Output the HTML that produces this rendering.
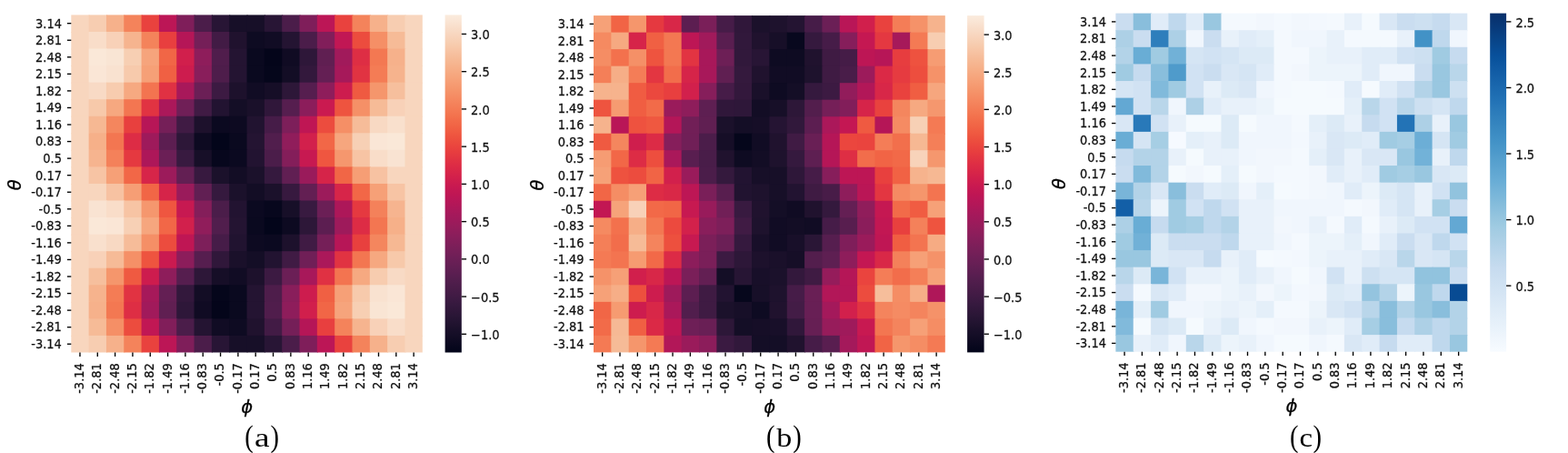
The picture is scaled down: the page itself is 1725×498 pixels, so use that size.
<!DOCTYPE html>
<html><head><meta charset="utf-8"><title>Heatmaps</title>
<style>
html,body{margin:0;padding:0;background:#fff;}
body{width:1725px;height:498px;overflow:hidden;}
svg{display:block;}
.t{font-family:"DejaVu Sans","Liberation Sans",sans-serif;font-size:13.0px;fill:#111;stroke:#111;stroke-width:0.25px;}
.ax{font-family:"DejaVu Sans","Liberation Sans",sans-serif;font-style:italic;font-size:19.5px;fill:#000;stroke:#000;stroke-width:0.3px;}
.cap{font-family:"Liberation Serif","DejaVu Serif",serif;font-size:32.5px;fill:#000;}
.tk{stroke:#000;stroke-width:1.35;fill:none;}
</style></head><body>
<svg width="1725" height="498" viewBox="0 0 1725 498">
<rect width="1725" height="498" fill="#fff"/>
<g>
<rect x="78.30" y="16.40" width="20.32" height="19.55" fill="#f8d6be"/><rect x="97.62" y="16.40" width="20.32" height="19.55" fill="#f7cdb1"/><rect x="116.95" y="16.40" width="20.32" height="19.55" fill="#f6b18b"/><rect x="136.27" y="16.40" width="20.32" height="19.55" fill="#f4835b"/><rect x="155.60" y="16.40" width="20.32" height="19.55" fill="#e9423e"/><rect x="174.93" y="16.40" width="20.32" height="19.55" fill="#bc1656"/><rect x="194.25" y="16.40" width="20.32" height="19.55" fill="#7f1e5a"/><rect x="213.57" y="16.40" width="20.32" height="19.55" fill="#4b1d4a"/><rect x="232.90" y="16.40" width="20.32" height="19.55" fill="#281535"/><rect x="252.22" y="16.40" width="20.32" height="19.55" fill="#170f28"/><rect x="271.55" y="16.40" width="20.32" height="19.55" fill="#170f28"/><rect x="290.88" y="16.40" width="20.32" height="19.55" fill="#281535"/><rect x="310.20" y="16.40" width="20.32" height="19.55" fill="#4b1d4a"/><rect x="329.52" y="16.40" width="20.32" height="19.55" fill="#7f1e5a"/><rect x="348.85" y="16.40" width="20.32" height="19.55" fill="#bc1656"/><rect x="368.18" y="16.40" width="20.32" height="19.55" fill="#e9423e"/><rect x="387.50" y="16.40" width="20.32" height="19.55" fill="#f4835b"/><rect x="406.82" y="16.40" width="20.32" height="19.55" fill="#f6b18b"/><rect x="426.15" y="16.40" width="20.32" height="19.55" fill="#f7cdb1"/><rect x="445.48" y="16.40" width="19.32" height="19.55" fill="#f8d6be"/>
<rect x="78.30" y="34.95" width="20.32" height="19.55" fill="#f8d6be"/><rect x="97.62" y="34.95" width="20.32" height="19.55" fill="#f9ddc9"/><rect x="116.95" y="34.95" width="20.32" height="19.55" fill="#f8d1b8"/><rect x="136.27" y="34.95" width="20.32" height="19.55" fill="#f6b48f"/><rect x="155.60" y="34.95" width="20.32" height="19.55" fill="#f4835b"/><rect x="174.93" y="34.95" width="20.32" height="19.55" fill="#e83f3f"/><rect x="194.25" y="34.95" width="20.32" height="19.55" fill="#b51657"/><rect x="213.57" y="34.95" width="20.32" height="19.55" fill="#751f58"/><rect x="232.90" y="34.95" width="20.32" height="19.55" fill="#421b45"/><rect x="252.22" y="34.95" width="20.32" height="19.55" fill="#20122e"/><rect x="271.55" y="34.95" width="20.32" height="19.55" fill="#0e0b22"/><rect x="290.88" y="34.95" width="20.32" height="19.55" fill="#110c24"/><rect x="310.20" y="34.95" width="20.32" height="19.55" fill="#241432"/><rect x="329.52" y="34.95" width="20.32" height="19.55" fill="#4b1d4a"/><rect x="348.85" y="34.95" width="20.32" height="19.55" fill="#811e5a"/><rect x="368.18" y="34.95" width="20.32" height="19.55" fill="#c11754"/><rect x="387.50" y="34.95" width="20.32" height="19.55" fill="#ec4c3e"/><rect x="406.82" y="34.95" width="20.32" height="19.55" fill="#f58f66"/><rect x="426.15" y="34.95" width="20.32" height="19.55" fill="#f6bb97"/><rect x="445.48" y="34.95" width="19.32" height="19.55" fill="#f8d6be"/>
<rect x="78.30" y="53.51" width="20.32" height="19.55" fill="#f8d6be"/><rect x="97.62" y="53.51" width="20.32" height="19.55" fill="#fae8d8"/><rect x="116.95" y="53.51" width="20.32" height="19.55" fill="#f9e5d4"/><rect x="136.27" y="53.51" width="20.32" height="19.55" fill="#f7cfb3"/><rect x="155.60" y="53.51" width="20.32" height="19.55" fill="#f6a47c"/><rect x="174.93" y="53.51" width="20.32" height="19.55" fill="#f16646"/><rect x="194.25" y="53.51" width="20.32" height="19.55" fill="#d11f4c"/><rect x="213.57" y="53.51" width="20.32" height="19.55" fill="#8e1d5b"/><rect x="232.90" y="53.51" width="20.32" height="19.55" fill="#501d4c"/><rect x="252.22" y="53.51" width="20.32" height="19.55" fill="#241432"/><rect x="271.55" y="53.51" width="20.32" height="19.55" fill="#0a091f"/><rect x="290.88" y="53.51" width="20.32" height="19.55" fill="#04051a"/><rect x="310.20" y="53.51" width="20.32" height="19.55" fill="#100b23"/><rect x="329.52" y="53.51" width="20.32" height="19.55" fill="#2e1739"/><rect x="348.85" y="53.51" width="20.32" height="19.55" fill="#601f52"/><rect x="368.18" y="53.51" width="20.32" height="19.55" fill="#a11a5b"/><rect x="387.50" y="53.51" width="20.32" height="19.55" fill="#de2e44"/><rect x="406.82" y="53.51" width="20.32" height="19.55" fill="#f37852"/><rect x="426.15" y="53.51" width="20.32" height="19.55" fill="#f6b18b"/><rect x="445.48" y="53.51" width="19.32" height="19.55" fill="#f8d6be"/>
<rect x="78.30" y="72.06" width="20.32" height="19.55" fill="#f8d6be"/><rect x="97.62" y="72.06" width="20.32" height="19.55" fill="#fae6d6"/><rect x="116.95" y="72.06" width="20.32" height="19.55" fill="#f9e2d0"/><rect x="136.27" y="72.06" width="20.32" height="19.55" fill="#f7caac"/><rect x="155.60" y="72.06" width="20.32" height="19.55" fill="#f6a077"/><rect x="174.93" y="72.06" width="20.32" height="19.55" fill="#f06043"/><rect x="194.25" y="72.06" width="20.32" height="19.55" fill="#cd1c4e"/><rect x="213.57" y="72.06" width="20.32" height="19.55" fill="#891e5b"/><rect x="232.90" y="72.06" width="20.32" height="19.55" fill="#4e1d4b"/><rect x="252.22" y="72.06" width="20.32" height="19.55" fill="#241432"/><rect x="271.55" y="72.06" width="20.32" height="19.55" fill="#0a091f"/><rect x="290.88" y="72.06" width="20.32" height="19.55" fill="#05061b"/><rect x="310.20" y="72.06" width="20.32" height="19.55" fill="#130d25"/><rect x="329.52" y="72.06" width="20.32" height="19.55" fill="#33183c"/><rect x="348.85" y="72.06" width="20.32" height="19.55" fill="#641f54"/><rect x="368.18" y="72.06" width="20.32" height="19.55" fill="#a6195a"/><rect x="387.50" y="72.06" width="20.32" height="19.55" fill="#e13342"/><rect x="406.82" y="72.06" width="20.32" height="19.55" fill="#f47c55"/><rect x="426.15" y="72.06" width="20.32" height="19.55" fill="#f6b38d"/><rect x="445.48" y="72.06" width="19.32" height="19.55" fill="#f8d6be"/>
<rect x="78.30" y="90.62" width="20.32" height="19.55" fill="#f8d6be"/><rect x="97.62" y="90.62" width="20.32" height="19.55" fill="#f8dac5"/><rect x="116.95" y="90.62" width="20.32" height="19.55" fill="#f7ccaf"/><rect x="136.27" y="90.62" width="20.32" height="19.55" fill="#f6a981"/><rect x="155.60" y="90.62" width="20.32" height="19.55" fill="#f37450"/><rect x="174.93" y="90.62" width="20.32" height="19.55" fill="#e03143"/><rect x="194.25" y="90.62" width="20.32" height="19.55" fill="#a8185a"/><rect x="213.57" y="90.62" width="20.32" height="19.55" fill="#6b1f56"/><rect x="232.90" y="90.62" width="20.32" height="19.55" fill="#3c1a42"/><rect x="252.22" y="90.62" width="20.32" height="19.55" fill="#1d112c"/><rect x="271.55" y="90.62" width="20.32" height="19.55" fill="#110c24"/><rect x="290.88" y="90.62" width="20.32" height="19.55" fill="#160e27"/><rect x="310.20" y="90.62" width="20.32" height="19.55" fill="#2d1738"/><rect x="329.52" y="90.62" width="20.32" height="19.55" fill="#561e4f"/><rect x="348.85" y="90.62" width="20.32" height="19.55" fill="#8e1d5b"/><rect x="368.18" y="90.62" width="20.32" height="19.55" fill="#cd1c4e"/><rect x="387.50" y="90.62" width="20.32" height="19.55" fill="#ef5a41"/><rect x="406.82" y="90.62" width="20.32" height="19.55" fill="#f5966c"/><rect x="426.15" y="90.62" width="20.32" height="19.55" fill="#f6bf9d"/><rect x="445.48" y="90.62" width="19.32" height="19.55" fill="#f8d6be"/>
<rect x="78.30" y="109.18" width="20.32" height="19.55" fill="#f8d6be"/><rect x="97.62" y="109.18" width="20.32" height="19.55" fill="#f7c9aa"/><rect x="116.95" y="109.18" width="20.32" height="19.55" fill="#f6a880"/><rect x="136.27" y="109.18" width="20.32" height="19.55" fill="#f37651"/><rect x="155.60" y="109.18" width="20.32" height="19.55" fill="#e13342"/><rect x="174.93" y="109.18" width="20.32" height="19.55" fill="#ab185a"/><rect x="194.25" y="109.18" width="20.32" height="19.55" fill="#701f57"/><rect x="213.57" y="109.18" width="20.32" height="19.55" fill="#401b44"/><rect x="232.90" y="109.18" width="20.32" height="19.55" fill="#221331"/><rect x="252.22" y="109.18" width="20.32" height="19.55" fill="#140e26"/><rect x="271.55" y="109.18" width="20.32" height="19.55" fill="#1a102a"/><rect x="290.88" y="109.18" width="20.32" height="19.55" fill="#30173a"/><rect x="310.20" y="109.18" width="20.32" height="19.55" fill="#561e4f"/><rect x="329.52" y="109.18" width="20.32" height="19.55" fill="#8c1d5b"/><rect x="348.85" y="109.18" width="20.32" height="19.55" fill="#ca1a50"/><rect x="368.18" y="109.18" width="20.32" height="19.55" fill="#ee543f"/><rect x="387.50" y="109.18" width="20.32" height="19.55" fill="#f59067"/><rect x="406.82" y="109.18" width="20.32" height="19.55" fill="#f6bb97"/><rect x="426.15" y="109.18" width="20.32" height="19.55" fill="#f8d1b8"/><rect x="445.48" y="109.18" width="19.32" height="19.55" fill="#f8d6be"/>
<rect x="78.30" y="127.73" width="20.32" height="19.55" fill="#f8d6be"/><rect x="97.62" y="127.73" width="20.32" height="19.55" fill="#f6b893"/><rect x="116.95" y="127.73" width="20.32" height="19.55" fill="#f4865e"/><rect x="136.27" y="127.73" width="20.32" height="19.55" fill="#e8403e"/><rect x="155.60" y="127.73" width="20.32" height="19.55" fill="#b71657"/><rect x="174.93" y="127.73" width="20.32" height="19.55" fill="#751f58"/><rect x="194.25" y="127.73" width="20.32" height="19.55" fill="#401b44"/><rect x="213.57" y="127.73" width="20.32" height="19.55" fill="#1d112c"/><rect x="232.90" y="127.73" width="20.32" height="19.55" fill="#0b0920"/><rect x="252.22" y="127.73" width="20.32" height="19.55" fill="#0d0a21"/><rect x="271.55" y="127.73" width="20.32" height="19.55" fill="#211330"/><rect x="290.88" y="127.73" width="20.32" height="19.55" fill="#461c48"/><rect x="310.20" y="127.73" width="20.32" height="19.55" fill="#7d1f5a"/><rect x="329.52" y="127.73" width="20.32" height="19.55" fill="#bf1654"/><rect x="348.85" y="127.73" width="20.32" height="19.55" fill="#ec4c3e"/><rect x="368.18" y="127.73" width="20.32" height="19.55" fill="#f58f66"/><rect x="387.50" y="127.73" width="20.32" height="19.55" fill="#f6bc99"/><rect x="406.82" y="127.73" width="20.32" height="19.55" fill="#f8d9c3"/><rect x="426.15" y="127.73" width="20.32" height="19.55" fill="#f9e0cd"/><rect x="445.48" y="127.73" width="19.32" height="19.55" fill="#f8d6be"/>
<rect x="78.30" y="146.28" width="20.32" height="19.55" fill="#f8d6be"/><rect x="97.62" y="146.28" width="20.32" height="19.55" fill="#f6b089"/><rect x="116.95" y="146.28" width="20.32" height="19.55" fill="#f37651"/><rect x="136.27" y="146.28" width="20.32" height="19.55" fill="#dd2c45"/><rect x="155.60" y="146.28" width="20.32" height="19.55" fill="#9e1a5b"/><rect x="174.93" y="146.28" width="20.32" height="19.55" fill="#5c1e51"/><rect x="194.25" y="146.28" width="20.32" height="19.55" fill="#2d1738"/><rect x="213.57" y="146.28" width="20.32" height="19.55" fill="#0d0a21"/><rect x="232.90" y="146.28" width="20.32" height="19.55" fill="#03051a"/><rect x="252.22" y="146.28" width="20.32" height="19.55" fill="#0a091f"/><rect x="271.55" y="146.28" width="20.32" height="19.55" fill="#241432"/><rect x="290.88" y="146.28" width="20.32" height="19.55" fill="#511e4d"/><rect x="310.20" y="146.28" width="20.32" height="19.55" fill="#901d5b"/><rect x="329.52" y="146.28" width="20.32" height="19.55" fill="#d2204c"/><rect x="348.85" y="146.28" width="20.32" height="19.55" fill="#f26747"/><rect x="368.18" y="146.28" width="20.32" height="19.55" fill="#f6a67e"/><rect x="387.50" y="146.28" width="20.32" height="19.55" fill="#f7d0b5"/><rect x="406.82" y="146.28" width="20.32" height="19.55" fill="#fae6d6"/><rect x="426.15" y="146.28" width="20.32" height="19.55" fill="#fae8d8"/><rect x="445.48" y="146.28" width="19.32" height="19.55" fill="#f8d6be"/>
<rect x="78.30" y="164.84" width="20.32" height="19.55" fill="#f8d6be"/><rect x="97.62" y="164.84" width="20.32" height="19.55" fill="#f6b48f"/><rect x="116.95" y="164.84" width="20.32" height="19.55" fill="#f4815a"/><rect x="136.27" y="164.84" width="20.32" height="19.55" fill="#e53940"/><rect x="155.60" y="164.84" width="20.32" height="19.55" fill="#ad1759"/><rect x="174.93" y="164.84" width="20.32" height="19.55" fill="#6b1f56"/><rect x="194.25" y="164.84" width="20.32" height="19.55" fill="#381a40"/><rect x="213.57" y="164.84" width="20.32" height="19.55" fill="#170f28"/><rect x="232.90" y="164.84" width="20.32" height="19.55" fill="#07071d"/><rect x="252.22" y="164.84" width="20.32" height="19.55" fill="#0b0920"/><rect x="271.55" y="164.84" width="20.32" height="19.55" fill="#221331"/><rect x="290.88" y="164.84" width="20.32" height="19.55" fill="#4b1d4a"/><rect x="310.20" y="164.84" width="20.32" height="19.55" fill="#841e5a"/><rect x="329.52" y="164.84" width="20.32" height="19.55" fill="#c71951"/><rect x="348.85" y="164.84" width="20.32" height="19.55" fill="#ef5640"/><rect x="368.18" y="164.84" width="20.32" height="19.55" fill="#f5976e"/><rect x="387.50" y="164.84" width="20.32" height="19.55" fill="#f7c4a4"/><rect x="406.82" y="164.84" width="20.32" height="19.55" fill="#f9ddc9"/><rect x="426.15" y="164.84" width="20.32" height="19.55" fill="#f9e3d2"/><rect x="445.48" y="164.84" width="19.32" height="19.55" fill="#f8d6be"/>
<rect x="78.30" y="183.40" width="20.32" height="19.55" fill="#f8d6be"/><rect x="97.62" y="183.40" width="20.32" height="19.55" fill="#f7c4a4"/><rect x="116.95" y="183.40" width="20.32" height="19.55" fill="#f6a077"/><rect x="136.27" y="183.40" width="20.32" height="19.55" fill="#f26747"/><rect x="155.60" y="183.40" width="20.32" height="19.55" fill="#d72549"/><rect x="174.93" y="183.40" width="20.32" height="19.55" fill="#9c1b5b"/><rect x="194.25" y="183.40" width="20.32" height="19.55" fill="#631f53"/><rect x="213.57" y="183.40" width="20.32" height="19.55" fill="#37193f"/><rect x="232.90" y="183.40" width="20.32" height="19.55" fill="#1b112b"/><rect x="252.22" y="183.40" width="20.32" height="19.55" fill="#130d25"/><rect x="271.55" y="183.40" width="20.32" height="19.55" fill="#1b112b"/><rect x="290.88" y="183.40" width="20.32" height="19.55" fill="#35193e"/><rect x="310.20" y="183.40" width="20.32" height="19.55" fill="#611f53"/><rect x="329.52" y="183.40" width="20.32" height="19.55" fill="#9a1b5b"/><rect x="348.85" y="183.40" width="20.32" height="19.55" fill="#d62449"/><rect x="368.18" y="183.40" width="20.32" height="19.55" fill="#f16646"/><rect x="387.50" y="183.40" width="20.32" height="19.55" fill="#f69e75"/><rect x="406.82" y="183.40" width="20.32" height="19.55" fill="#f7c2a2"/><rect x="426.15" y="183.40" width="20.32" height="19.55" fill="#f8d6be"/><rect x="445.48" y="183.40" width="19.32" height="19.55" fill="#f8d6be"/>
<rect x="78.30" y="201.95" width="20.32" height="19.55" fill="#f8d6be"/><rect x="97.62" y="201.95" width="20.32" height="19.55" fill="#f8d6be"/><rect x="116.95" y="201.95" width="20.32" height="19.55" fill="#f7c2a2"/><rect x="136.27" y="201.95" width="20.32" height="19.55" fill="#f69e75"/><rect x="155.60" y="201.95" width="20.32" height="19.55" fill="#f16646"/><rect x="174.93" y="201.95" width="20.32" height="19.55" fill="#d62449"/><rect x="194.25" y="201.95" width="20.32" height="19.55" fill="#9a1b5b"/><rect x="213.57" y="201.95" width="20.32" height="19.55" fill="#611f53"/><rect x="232.90" y="201.95" width="20.32" height="19.55" fill="#35193e"/><rect x="252.22" y="201.95" width="20.32" height="19.55" fill="#1b112b"/><rect x="271.55" y="201.95" width="20.32" height="19.55" fill="#130d25"/><rect x="290.88" y="201.95" width="20.32" height="19.55" fill="#1b112b"/><rect x="310.20" y="201.95" width="20.32" height="19.55" fill="#37193f"/><rect x="329.52" y="201.95" width="20.32" height="19.55" fill="#631f53"/><rect x="348.85" y="201.95" width="20.32" height="19.55" fill="#9c1b5b"/><rect x="368.18" y="201.95" width="20.32" height="19.55" fill="#d72549"/><rect x="387.50" y="201.95" width="20.32" height="19.55" fill="#f26747"/><rect x="406.82" y="201.95" width="20.32" height="19.55" fill="#f6a077"/><rect x="426.15" y="201.95" width="20.32" height="19.55" fill="#f7c4a4"/><rect x="445.48" y="201.95" width="19.32" height="19.55" fill="#f8d6be"/>
<rect x="78.30" y="220.50" width="20.32" height="19.55" fill="#f8d6be"/><rect x="97.62" y="220.50" width="20.32" height="19.55" fill="#f9e3d2"/><rect x="116.95" y="220.50" width="20.32" height="19.55" fill="#f9ddc9"/><rect x="136.27" y="220.50" width="20.32" height="19.55" fill="#f7c4a4"/><rect x="155.60" y="220.50" width="20.32" height="19.55" fill="#f5976e"/><rect x="174.93" y="220.50" width="20.32" height="19.55" fill="#ef5640"/><rect x="194.25" y="220.50" width="20.32" height="19.55" fill="#c71951"/><rect x="213.57" y="220.50" width="20.32" height="19.55" fill="#841e5a"/><rect x="232.90" y="220.50" width="20.32" height="19.55" fill="#4b1d4a"/><rect x="252.22" y="220.50" width="20.32" height="19.55" fill="#221331"/><rect x="271.55" y="220.50" width="20.32" height="19.55" fill="#0b0920"/><rect x="290.88" y="220.50" width="20.32" height="19.55" fill="#07071d"/><rect x="310.20" y="220.50" width="20.32" height="19.55" fill="#170f28"/><rect x="329.52" y="220.50" width="20.32" height="19.55" fill="#381a40"/><rect x="348.85" y="220.50" width="20.32" height="19.55" fill="#6b1f56"/><rect x="368.18" y="220.50" width="20.32" height="19.55" fill="#ad1759"/><rect x="387.50" y="220.50" width="20.32" height="19.55" fill="#e53940"/><rect x="406.82" y="220.50" width="20.32" height="19.55" fill="#f4815a"/><rect x="426.15" y="220.50" width="20.32" height="19.55" fill="#f6b48f"/><rect x="445.48" y="220.50" width="19.32" height="19.55" fill="#f8d6be"/>
<rect x="78.30" y="239.06" width="20.32" height="19.55" fill="#f8d6be"/><rect x="97.62" y="239.06" width="20.32" height="19.55" fill="#fae8d8"/><rect x="116.95" y="239.06" width="20.32" height="19.55" fill="#fae6d6"/><rect x="136.27" y="239.06" width="20.32" height="19.55" fill="#f7d0b5"/><rect x="155.60" y="239.06" width="20.32" height="19.55" fill="#f6a67e"/><rect x="174.93" y="239.06" width="20.32" height="19.55" fill="#f26747"/><rect x="194.25" y="239.06" width="20.32" height="19.55" fill="#d2204c"/><rect x="213.57" y="239.06" width="20.32" height="19.55" fill="#901d5b"/><rect x="232.90" y="239.06" width="20.32" height="19.55" fill="#511e4d"/><rect x="252.22" y="239.06" width="20.32" height="19.55" fill="#241432"/><rect x="271.55" y="239.06" width="20.32" height="19.55" fill="#0a091f"/><rect x="290.88" y="239.06" width="20.32" height="19.55" fill="#03051a"/><rect x="310.20" y="239.06" width="20.32" height="19.55" fill="#0d0a21"/><rect x="329.52" y="239.06" width="20.32" height="19.55" fill="#2d1738"/><rect x="348.85" y="239.06" width="20.32" height="19.55" fill="#5c1e51"/><rect x="368.18" y="239.06" width="20.32" height="19.55" fill="#9e1a5b"/><rect x="387.50" y="239.06" width="20.32" height="19.55" fill="#dd2c45"/><rect x="406.82" y="239.06" width="20.32" height="19.55" fill="#f37651"/><rect x="426.15" y="239.06" width="20.32" height="19.55" fill="#f6b089"/><rect x="445.48" y="239.06" width="19.32" height="19.55" fill="#f8d6be"/>
<rect x="78.30" y="257.62" width="20.32" height="19.55" fill="#f8d6be"/><rect x="97.62" y="257.62" width="20.32" height="19.55" fill="#f9e0cd"/><rect x="116.95" y="257.62" width="20.32" height="19.55" fill="#f8d9c3"/><rect x="136.27" y="257.62" width="20.32" height="19.55" fill="#f6bc99"/><rect x="155.60" y="257.62" width="20.32" height="19.55" fill="#f58f66"/><rect x="174.93" y="257.62" width="20.32" height="19.55" fill="#ec4c3e"/><rect x="194.25" y="257.62" width="20.32" height="19.55" fill="#bf1654"/><rect x="213.57" y="257.62" width="20.32" height="19.55" fill="#7d1f5a"/><rect x="232.90" y="257.62" width="20.32" height="19.55" fill="#461c48"/><rect x="252.22" y="257.62" width="20.32" height="19.55" fill="#211330"/><rect x="271.55" y="257.62" width="20.32" height="19.55" fill="#0d0a21"/><rect x="290.88" y="257.62" width="20.32" height="19.55" fill="#0b0920"/><rect x="310.20" y="257.62" width="20.32" height="19.55" fill="#1d112c"/><rect x="329.52" y="257.62" width="20.32" height="19.55" fill="#401b44"/><rect x="348.85" y="257.62" width="20.32" height="19.55" fill="#751f58"/><rect x="368.18" y="257.62" width="20.32" height="19.55" fill="#b71657"/><rect x="387.50" y="257.62" width="20.32" height="19.55" fill="#e8403e"/><rect x="406.82" y="257.62" width="20.32" height="19.55" fill="#f4865e"/><rect x="426.15" y="257.62" width="20.32" height="19.55" fill="#f6b893"/><rect x="445.48" y="257.62" width="19.32" height="19.55" fill="#f8d6be"/>
<rect x="78.30" y="276.17" width="20.32" height="19.55" fill="#f8d6be"/><rect x="97.62" y="276.17" width="20.32" height="19.55" fill="#f8d1b8"/><rect x="116.95" y="276.17" width="20.32" height="19.55" fill="#f6bb97"/><rect x="136.27" y="276.17" width="20.32" height="19.55" fill="#f59067"/><rect x="155.60" y="276.17" width="20.32" height="19.55" fill="#ee543f"/><rect x="174.93" y="276.17" width="20.32" height="19.55" fill="#ca1a50"/><rect x="194.25" y="276.17" width="20.32" height="19.55" fill="#8c1d5b"/><rect x="213.57" y="276.17" width="20.32" height="19.55" fill="#561e4f"/><rect x="232.90" y="276.17" width="20.32" height="19.55" fill="#30173a"/><rect x="252.22" y="276.17" width="20.32" height="19.55" fill="#1a102a"/><rect x="271.55" y="276.17" width="20.32" height="19.55" fill="#140e26"/><rect x="290.88" y="276.17" width="20.32" height="19.55" fill="#221331"/><rect x="310.20" y="276.17" width="20.32" height="19.55" fill="#401b44"/><rect x="329.52" y="276.17" width="20.32" height="19.55" fill="#701f57"/><rect x="348.85" y="276.17" width="20.32" height="19.55" fill="#ab185a"/><rect x="368.18" y="276.17" width="20.32" height="19.55" fill="#e13342"/><rect x="387.50" y="276.17" width="20.32" height="19.55" fill="#f37651"/><rect x="406.82" y="276.17" width="20.32" height="19.55" fill="#f6a880"/><rect x="426.15" y="276.17" width="20.32" height="19.55" fill="#f7c9aa"/><rect x="445.48" y="276.17" width="19.32" height="19.55" fill="#f8d6be"/>
<rect x="78.30" y="294.72" width="20.32" height="19.55" fill="#f8d6be"/><rect x="97.62" y="294.72" width="20.32" height="19.55" fill="#f6bf9d"/><rect x="116.95" y="294.72" width="20.32" height="19.55" fill="#f5966c"/><rect x="136.27" y="294.72" width="20.32" height="19.55" fill="#ef5a41"/><rect x="155.60" y="294.72" width="20.32" height="19.55" fill="#cd1c4e"/><rect x="174.93" y="294.72" width="20.32" height="19.55" fill="#8e1d5b"/><rect x="194.25" y="294.72" width="20.32" height="19.55" fill="#561e4f"/><rect x="213.57" y="294.72" width="20.32" height="19.55" fill="#2d1738"/><rect x="232.90" y="294.72" width="20.32" height="19.55" fill="#160e27"/><rect x="252.22" y="294.72" width="20.32" height="19.55" fill="#110c24"/><rect x="271.55" y="294.72" width="20.32" height="19.55" fill="#1d112c"/><rect x="290.88" y="294.72" width="20.32" height="19.55" fill="#3c1a42"/><rect x="310.20" y="294.72" width="20.32" height="19.55" fill="#6b1f56"/><rect x="329.52" y="294.72" width="20.32" height="19.55" fill="#a8185a"/><rect x="348.85" y="294.72" width="20.32" height="19.55" fill="#e03143"/><rect x="368.18" y="294.72" width="20.32" height="19.55" fill="#f37450"/><rect x="387.50" y="294.72" width="20.32" height="19.55" fill="#f6a981"/><rect x="406.82" y="294.72" width="20.32" height="19.55" fill="#f7ccaf"/><rect x="426.15" y="294.72" width="20.32" height="19.55" fill="#f8dac5"/><rect x="445.48" y="294.72" width="19.32" height="19.55" fill="#f8d6be"/>
<rect x="78.30" y="313.28" width="20.32" height="19.55" fill="#f8d6be"/><rect x="97.62" y="313.28" width="20.32" height="19.55" fill="#f6b38d"/><rect x="116.95" y="313.28" width="20.32" height="19.55" fill="#f47c55"/><rect x="136.27" y="313.28" width="20.32" height="19.55" fill="#e13342"/><rect x="155.60" y="313.28" width="20.32" height="19.55" fill="#a6195a"/><rect x="174.93" y="313.28" width="20.32" height="19.55" fill="#641f54"/><rect x="194.25" y="313.28" width="20.32" height="19.55" fill="#33183c"/><rect x="213.57" y="313.28" width="20.32" height="19.55" fill="#130d25"/><rect x="232.90" y="313.28" width="20.32" height="19.55" fill="#05061b"/><rect x="252.22" y="313.28" width="20.32" height="19.55" fill="#0a091f"/><rect x="271.55" y="313.28" width="20.32" height="19.55" fill="#241432"/><rect x="290.88" y="313.28" width="20.32" height="19.55" fill="#4e1d4b"/><rect x="310.20" y="313.28" width="20.32" height="19.55" fill="#891e5b"/><rect x="329.52" y="313.28" width="20.32" height="19.55" fill="#cd1c4e"/><rect x="348.85" y="313.28" width="20.32" height="19.55" fill="#f06043"/><rect x="368.18" y="313.28" width="20.32" height="19.55" fill="#f6a077"/><rect x="387.50" y="313.28" width="20.32" height="19.55" fill="#f7caac"/><rect x="406.82" y="313.28" width="20.32" height="19.55" fill="#f9e2d0"/><rect x="426.15" y="313.28" width="20.32" height="19.55" fill="#fae6d6"/><rect x="445.48" y="313.28" width="19.32" height="19.55" fill="#f8d6be"/>
<rect x="78.30" y="331.83" width="20.32" height="19.55" fill="#f8d6be"/><rect x="97.62" y="331.83" width="20.32" height="19.55" fill="#f6b18b"/><rect x="116.95" y="331.83" width="20.32" height="19.55" fill="#f37852"/><rect x="136.27" y="331.83" width="20.32" height="19.55" fill="#de2e44"/><rect x="155.60" y="331.83" width="20.32" height="19.55" fill="#a11a5b"/><rect x="174.93" y="331.83" width="20.32" height="19.55" fill="#601f52"/><rect x="194.25" y="331.83" width="20.32" height="19.55" fill="#2e1739"/><rect x="213.57" y="331.83" width="20.32" height="19.55" fill="#100b23"/><rect x="232.90" y="331.83" width="20.32" height="19.55" fill="#04051a"/><rect x="252.22" y="331.83" width="20.32" height="19.55" fill="#0a091f"/><rect x="271.55" y="331.83" width="20.32" height="19.55" fill="#241432"/><rect x="290.88" y="331.83" width="20.32" height="19.55" fill="#501d4c"/><rect x="310.20" y="331.83" width="20.32" height="19.55" fill="#8e1d5b"/><rect x="329.52" y="331.83" width="20.32" height="19.55" fill="#d11f4c"/><rect x="348.85" y="331.83" width="20.32" height="19.55" fill="#f16646"/><rect x="368.18" y="331.83" width="20.32" height="19.55" fill="#f6a47c"/><rect x="387.50" y="331.83" width="20.32" height="19.55" fill="#f7cfb3"/><rect x="406.82" y="331.83" width="20.32" height="19.55" fill="#f9e5d4"/><rect x="426.15" y="331.83" width="20.32" height="19.55" fill="#fae8d8"/><rect x="445.48" y="331.83" width="19.32" height="19.55" fill="#f8d6be"/>
<rect x="78.30" y="350.39" width="20.32" height="19.55" fill="#f8d6be"/><rect x="97.62" y="350.39" width="20.32" height="19.55" fill="#f6bb97"/><rect x="116.95" y="350.39" width="20.32" height="19.55" fill="#f58f66"/><rect x="136.27" y="350.39" width="20.32" height="19.55" fill="#ec4c3e"/><rect x="155.60" y="350.39" width="20.32" height="19.55" fill="#c11754"/><rect x="174.93" y="350.39" width="20.32" height="19.55" fill="#811e5a"/><rect x="194.25" y="350.39" width="20.32" height="19.55" fill="#4b1d4a"/><rect x="213.57" y="350.39" width="20.32" height="19.55" fill="#241432"/><rect x="232.90" y="350.39" width="20.32" height="19.55" fill="#110c24"/><rect x="252.22" y="350.39" width="20.32" height="19.55" fill="#0e0b22"/><rect x="271.55" y="350.39" width="20.32" height="19.55" fill="#20122e"/><rect x="290.88" y="350.39" width="20.32" height="19.55" fill="#421b45"/><rect x="310.20" y="350.39" width="20.32" height="19.55" fill="#751f58"/><rect x="329.52" y="350.39" width="20.32" height="19.55" fill="#b51657"/><rect x="348.85" y="350.39" width="20.32" height="19.55" fill="#e83f3f"/><rect x="368.18" y="350.39" width="20.32" height="19.55" fill="#f4835b"/><rect x="387.50" y="350.39" width="20.32" height="19.55" fill="#f6b48f"/><rect x="406.82" y="350.39" width="20.32" height="19.55" fill="#f8d1b8"/><rect x="426.15" y="350.39" width="20.32" height="19.55" fill="#f9ddc9"/><rect x="445.48" y="350.39" width="19.32" height="19.55" fill="#f8d6be"/>
<rect x="78.30" y="368.94" width="20.32" height="18.55" fill="#f8d6be"/><rect x="97.62" y="368.94" width="20.32" height="18.55" fill="#f7cdb1"/><rect x="116.95" y="368.94" width="20.32" height="18.55" fill="#f6b18b"/><rect x="136.27" y="368.94" width="20.32" height="18.55" fill="#f4835b"/><rect x="155.60" y="368.94" width="20.32" height="18.55" fill="#e9423e"/><rect x="174.93" y="368.94" width="20.32" height="18.55" fill="#bc1656"/><rect x="194.25" y="368.94" width="20.32" height="18.55" fill="#7f1e5a"/><rect x="213.57" y="368.94" width="20.32" height="18.55" fill="#4b1d4a"/><rect x="232.90" y="368.94" width="20.32" height="18.55" fill="#281535"/><rect x="252.22" y="368.94" width="20.32" height="18.55" fill="#170f28"/><rect x="271.55" y="368.94" width="20.32" height="18.55" fill="#170f28"/><rect x="290.88" y="368.94" width="20.32" height="18.55" fill="#281535"/><rect x="310.20" y="368.94" width="20.32" height="18.55" fill="#4b1d4a"/><rect x="329.52" y="368.94" width="20.32" height="18.55" fill="#7f1e5a"/><rect x="348.85" y="368.94" width="20.32" height="18.55" fill="#bc1656"/><rect x="368.18" y="368.94" width="20.32" height="18.55" fill="#e9423e"/><rect x="387.50" y="368.94" width="20.32" height="18.55" fill="#f4835b"/><rect x="406.82" y="368.94" width="20.32" height="18.55" fill="#f6b18b"/><rect x="426.15" y="368.94" width="20.32" height="18.55" fill="#f7cdb1"/><rect x="445.48" y="368.94" width="19.32" height="18.55" fill="#f8d6be"/>
<line class="tk" x1="73.90" y1="25.68" x2="78.30" y2="25.68"/><text class="t" transform="translate(67.90,30.50) scale(1,1.080)" text-anchor="end">3.14</text>
<line class="tk" x1="73.90" y1="44.23" x2="78.30" y2="44.23"/><text class="t" transform="translate(67.90,49.06) scale(1,1.080)" text-anchor="end">2.81</text>
<line class="tk" x1="73.90" y1="62.79" x2="78.30" y2="62.79"/><text class="t" transform="translate(67.90,67.61) scale(1,1.080)" text-anchor="end">2.48</text>
<line class="tk" x1="73.90" y1="81.34" x2="78.30" y2="81.34"/><text class="t" transform="translate(67.90,86.17) scale(1,1.080)" text-anchor="end">2.15</text>
<line class="tk" x1="73.90" y1="99.90" x2="78.30" y2="99.90"/><text class="t" transform="translate(67.90,104.72) scale(1,1.080)" text-anchor="end">1.82</text>
<line class="tk" x1="73.90" y1="118.45" x2="78.30" y2="118.45"/><text class="t" transform="translate(67.90,123.28) scale(1,1.080)" text-anchor="end">1.49</text>
<line class="tk" x1="73.90" y1="137.01" x2="78.30" y2="137.01"/><text class="t" transform="translate(67.90,141.83) scale(1,1.080)" text-anchor="end">1.16</text>
<line class="tk" x1="73.90" y1="155.56" x2="78.30" y2="155.56"/><text class="t" transform="translate(67.90,160.39) scale(1,1.080)" text-anchor="end">0.83</text>
<line class="tk" x1="73.90" y1="174.12" x2="78.30" y2="174.12"/><text class="t" transform="translate(67.90,178.94) scale(1,1.080)" text-anchor="end">0.5</text>
<line class="tk" x1="73.90" y1="192.67" x2="78.30" y2="192.67"/><text class="t" transform="translate(67.90,197.50) scale(1,1.080)" text-anchor="end">0.17</text>
<line class="tk" x1="73.90" y1="211.23" x2="78.30" y2="211.23"/><text class="t" transform="translate(67.90,216.05) scale(1,1.080)" text-anchor="end">-0.17</text>
<line class="tk" x1="73.90" y1="229.78" x2="78.30" y2="229.78"/><text class="t" transform="translate(67.90,234.61) scale(1,1.080)" text-anchor="end">-0.5</text>
<line class="tk" x1="73.90" y1="248.34" x2="78.30" y2="248.34"/><text class="t" transform="translate(67.90,253.16) scale(1,1.080)" text-anchor="end">-0.83</text>
<line class="tk" x1="73.90" y1="266.89" x2="78.30" y2="266.89"/><text class="t" transform="translate(67.90,271.72) scale(1,1.080)" text-anchor="end">-1.16</text>
<line class="tk" x1="73.90" y1="285.45" x2="78.30" y2="285.45"/><text class="t" transform="translate(67.90,290.27) scale(1,1.080)" text-anchor="end">-1.49</text>
<line class="tk" x1="73.90" y1="304.00" x2="78.30" y2="304.00"/><text class="t" transform="translate(67.90,308.83) scale(1,1.080)" text-anchor="end">-1.82</text>
<line class="tk" x1="73.90" y1="322.56" x2="78.30" y2="322.56"/><text class="t" transform="translate(67.90,327.38) scale(1,1.080)" text-anchor="end">-2.15</text>
<line class="tk" x1="73.90" y1="341.11" x2="78.30" y2="341.11"/><text class="t" transform="translate(67.90,345.94) scale(1,1.080)" text-anchor="end">-2.48</text>
<line class="tk" x1="73.90" y1="359.67" x2="78.30" y2="359.67"/><text class="t" transform="translate(67.90,364.49) scale(1,1.080)" text-anchor="end">-2.81</text>
<line class="tk" x1="73.90" y1="378.22" x2="78.30" y2="378.22"/><text class="t" transform="translate(67.90,383.05) scale(1,1.080)" text-anchor="end">-3.14</text>
<line class="tk" x1="87.96" y1="387.50" x2="87.96" y2="391.90"/><text class="t" transform="translate(91.89,399.20) rotate(-90) scale(1,1.080)" text-anchor="end">-3.14</text>
<line class="tk" x1="107.29" y1="387.50" x2="107.29" y2="391.90"/><text class="t" transform="translate(111.21,399.20) rotate(-90) scale(1,1.080)" text-anchor="end">-2.81</text>
<line class="tk" x1="126.61" y1="387.50" x2="126.61" y2="391.90"/><text class="t" transform="translate(130.54,399.20) rotate(-90) scale(1,1.080)" text-anchor="end">-2.48</text>
<line class="tk" x1="145.94" y1="387.50" x2="145.94" y2="391.90"/><text class="t" transform="translate(149.86,399.20) rotate(-90) scale(1,1.080)" text-anchor="end">-2.15</text>
<line class="tk" x1="165.26" y1="387.50" x2="165.26" y2="391.90"/><text class="t" transform="translate(169.19,399.20) rotate(-90) scale(1,1.080)" text-anchor="end">-1.82</text>
<line class="tk" x1="184.59" y1="387.50" x2="184.59" y2="391.90"/><text class="t" transform="translate(188.51,399.20) rotate(-90) scale(1,1.080)" text-anchor="end">-1.49</text>
<line class="tk" x1="203.91" y1="387.50" x2="203.91" y2="391.90"/><text class="t" transform="translate(207.84,399.20) rotate(-90) scale(1,1.080)" text-anchor="end">-1.16</text>
<line class="tk" x1="223.24" y1="387.50" x2="223.24" y2="391.90"/><text class="t" transform="translate(227.16,399.20) rotate(-90) scale(1,1.080)" text-anchor="end">-0.83</text>
<line class="tk" x1="242.56" y1="387.50" x2="242.56" y2="391.90"/><text class="t" transform="translate(246.49,399.20) rotate(-90) scale(1,1.080)" text-anchor="end">-0.5</text>
<line class="tk" x1="261.89" y1="387.50" x2="261.89" y2="391.90"/><text class="t" transform="translate(265.81,399.20) rotate(-90) scale(1,1.080)" text-anchor="end">-0.17</text>
<line class="tk" x1="281.21" y1="387.50" x2="281.21" y2="391.90"/><text class="t" transform="translate(285.14,399.20) rotate(-90) scale(1,1.080)" text-anchor="end">0.17</text>
<line class="tk" x1="300.54" y1="387.50" x2="300.54" y2="391.90"/><text class="t" transform="translate(304.46,399.20) rotate(-90) scale(1,1.080)" text-anchor="end">0.5</text>
<line class="tk" x1="319.86" y1="387.50" x2="319.86" y2="391.90"/><text class="t" transform="translate(323.79,399.20) rotate(-90) scale(1,1.080)" text-anchor="end">0.83</text>
<line class="tk" x1="339.19" y1="387.50" x2="339.19" y2="391.90"/><text class="t" transform="translate(343.11,399.20) rotate(-90) scale(1,1.080)" text-anchor="end">1.16</text>
<line class="tk" x1="358.51" y1="387.50" x2="358.51" y2="391.90"/><text class="t" transform="translate(362.44,399.20) rotate(-90) scale(1,1.080)" text-anchor="end">1.49</text>
<line class="tk" x1="377.84" y1="387.50" x2="377.84" y2="391.90"/><text class="t" transform="translate(381.76,399.20) rotate(-90) scale(1,1.080)" text-anchor="end">1.82</text>
<line class="tk" x1="397.16" y1="387.50" x2="397.16" y2="391.90"/><text class="t" transform="translate(401.09,399.20) rotate(-90) scale(1,1.080)" text-anchor="end">2.15</text>
<line class="tk" x1="416.49" y1="387.50" x2="416.49" y2="391.90"/><text class="t" transform="translate(420.41,399.20) rotate(-90) scale(1,1.080)" text-anchor="end">2.48</text>
<line class="tk" x1="435.81" y1="387.50" x2="435.81" y2="391.90"/><text class="t" transform="translate(439.74,399.20) rotate(-90) scale(1,1.080)" text-anchor="end">2.81</text>
<line class="tk" x1="455.14" y1="387.50" x2="455.14" y2="391.90"/><text class="t" transform="translate(459.06,399.20) rotate(-90) scale(1,1.080)" text-anchor="end">3.14</text>
<text class="ax" x="271.75" y="454.20" text-anchor="middle">ϕ</text>
<text class="ax" transform="translate(23.10,203.35) rotate(-90)" text-anchor="middle">θ</text>
<defs><linearGradient id="ga" x1="0" y1="0" x2="0" y2="1"><stop offset="0.0000" stop-color="#faebdd"/><stop offset="0.0156" stop-color="#fae6d6"/><stop offset="0.0312" stop-color="#f9e0cd"/><stop offset="0.0469" stop-color="#f8dac5"/><stop offset="0.0625" stop-color="#f8d4bc"/><stop offset="0.0781" stop-color="#f7cfb3"/><stop offset="0.0938" stop-color="#f7c9aa"/><stop offset="0.1094" stop-color="#f7c2a2"/><stop offset="0.1250" stop-color="#f6bc99"/><stop offset="0.1406" stop-color="#f6b691"/><stop offset="0.1562" stop-color="#f6b089"/><stop offset="0.1719" stop-color="#f6a981"/><stop offset="0.1875" stop-color="#f6a37a"/><stop offset="0.2031" stop-color="#f69c73"/><stop offset="0.2188" stop-color="#f5966c"/><stop offset="0.2344" stop-color="#f58f66"/><stop offset="0.2500" stop-color="#f58860"/><stop offset="0.2656" stop-color="#f4815a"/><stop offset="0.2812" stop-color="#f47a54"/><stop offset="0.2969" stop-color="#f3734e"/><stop offset="0.3125" stop-color="#f26b49"/><stop offset="0.3281" stop-color="#f16445"/><stop offset="0.3438" stop-color="#f05c42"/><stop offset="0.3594" stop-color="#ee543f"/><stop offset="0.3750" stop-color="#ec4c3e"/><stop offset="0.3906" stop-color="#ea443e"/><stop offset="0.4062" stop-color="#e73d3f"/><stop offset="0.4219" stop-color="#e33641"/><stop offset="0.4375" stop-color="#df2f44"/><stop offset="0.4531" stop-color="#db2946"/><stop offset="0.4688" stop-color="#d62449"/><stop offset="0.4844" stop-color="#d11f4c"/><stop offset="0.5000" stop-color="#cb1b4f"/><stop offset="0.5156" stop-color="#c51852"/><stop offset="0.5312" stop-color="#bf1654"/><stop offset="0.5469" stop-color="#b91657"/><stop offset="0.5625" stop-color="#b21758"/><stop offset="0.5781" stop-color="#ab185a"/><stop offset="0.5938" stop-color="#a4195b"/><stop offset="0.6094" stop-color="#9e1a5b"/><stop offset="0.6250" stop-color="#971c5b"/><stop offset="0.6406" stop-color="#901d5b"/><stop offset="0.6562" stop-color="#891e5b"/><stop offset="0.6719" stop-color="#821e5a"/><stop offset="0.6875" stop-color="#7b1f59"/><stop offset="0.7031" stop-color="#751f58"/><stop offset="0.7188" stop-color="#6e1f57"/><stop offset="0.7344" stop-color="#681f55"/><stop offset="0.7500" stop-color="#611f53"/><stop offset="0.7656" stop-color="#5b1e51"/><stop offset="0.7812" stop-color="#541e4e"/><stop offset="0.7969" stop-color="#4e1d4b"/><stop offset="0.8125" stop-color="#481c48"/><stop offset="0.8281" stop-color="#421b45"/><stop offset="0.8438" stop-color="#3c1a42"/><stop offset="0.8594" stop-color="#35193e"/><stop offset="0.8750" stop-color="#30173a"/><stop offset="0.8906" stop-color="#2a1636"/><stop offset="0.9062" stop-color="#241432"/><stop offset="0.9219" stop-color="#1e122d"/><stop offset="0.9375" stop-color="#180f29"/><stop offset="0.9531" stop-color="#130d25"/><stop offset="0.9688" stop-color="#0d0a21"/><stop offset="0.9844" stop-color="#07071d"/><stop offset="1.0000" stop-color="#03051a"/></linearGradient></defs>
<rect x="489.60" y="16.40" width="18.20" height="371.10" fill="url(#ga)"/>
<line class="tk" x1="507.80" y1="37.43" x2="513.10" y2="37.43"/><text class="t" transform="translate(518.10,43.05) scale(1,1.080)">3.0</text>
<line class="tk" x1="507.80" y1="78.66" x2="513.10" y2="78.66"/><text class="t" transform="translate(518.10,84.29) scale(1,1.080)">2.5</text>
<line class="tk" x1="507.80" y1="119.90" x2="513.10" y2="119.90"/><text class="t" transform="translate(518.10,125.52) scale(1,1.080)">2.0</text>
<line class="tk" x1="507.80" y1="161.13" x2="513.10" y2="161.13"/><text class="t" transform="translate(518.10,166.75) scale(1,1.080)">1.5</text>
<line class="tk" x1="507.80" y1="202.36" x2="513.10" y2="202.36"/><text class="t" transform="translate(518.10,207.99) scale(1,1.080)">1.0</text>
<line class="tk" x1="507.80" y1="243.60" x2="513.10" y2="243.60"/><text class="t" transform="translate(518.10,249.22) scale(1,1.080)">0.5</text>
<line class="tk" x1="507.80" y1="284.83" x2="513.10" y2="284.83"/><text class="t" transform="translate(518.10,290.45) scale(1,1.080)">0.0</text>
<line class="tk" x1="507.80" y1="326.06" x2="513.10" y2="326.06"/><text class="t" transform="translate(518.10,331.69) scale(1,1.080)">−0.5</text>
<line class="tk" x1="507.80" y1="367.30" x2="513.10" y2="367.30"/><text class="t" transform="translate(518.10,372.92) scale(1,1.080)">−1.0</text>
<text class="cap" y="491.1"><tspan x="269.30" font-size="33" textLength="9.5" lengthAdjust="spacingAndGlyphs">(</tspan><tspan x="279.90" font-size="28.7" textLength="16.56" lengthAdjust="spacingAndGlyphs">a</tspan><tspan x="297.40" font-size="33" textLength="9.5" lengthAdjust="spacingAndGlyphs">)</tspan></text>
</g>
<g>
<rect x="653.00" y="17.10" width="20.34" height="19.51" fill="#f6a178"/><rect x="672.34" y="17.10" width="20.34" height="19.51" fill="#f16445"/><rect x="691.68" y="17.10" width="20.34" height="19.51" fill="#f5966c"/><rect x="711.02" y="17.10" width="20.34" height="19.51" fill="#e53940"/><rect x="730.36" y="17.10" width="20.34" height="19.51" fill="#d82748"/><rect x="749.70" y="17.10" width="20.34" height="19.51" fill="#5c1e51"/><rect x="769.04" y="17.10" width="20.34" height="19.51" fill="#7a1f59"/><rect x="788.38" y="17.10" width="20.34" height="19.51" fill="#461c48"/><rect x="807.72" y="17.10" width="20.34" height="19.51" fill="#30173a"/><rect x="827.06" y="17.10" width="20.34" height="19.51" fill="#1b112b"/><rect x="846.40" y="17.10" width="20.34" height="19.51" fill="#1e122d"/><rect x="865.74" y="17.10" width="20.34" height="19.51" fill="#241432"/><rect x="885.08" y="17.10" width="20.34" height="19.51" fill="#461c48"/><rect x="904.42" y="17.10" width="20.34" height="19.51" fill="#6b1f56"/><rect x="923.76" y="17.10" width="20.34" height="19.51" fill="#b91657"/><rect x="943.10" y="17.10" width="20.34" height="19.51" fill="#d11f4c"/><rect x="962.44" y="17.10" width="20.34" height="19.51" fill="#e9423e"/><rect x="981.78" y="17.10" width="20.34" height="19.51" fill="#f47d57"/><rect x="1001.12" y="17.10" width="20.34" height="19.51" fill="#f59269"/><rect x="1020.46" y="17.10" width="19.34" height="19.51" fill="#f6b38d"/>
<rect x="653.00" y="35.61" width="20.34" height="19.51" fill="#f58a61"/><rect x="672.34" y="35.61" width="20.34" height="19.51" fill="#f6a981"/><rect x="691.68" y="35.61" width="20.34" height="19.51" fill="#d62449"/><rect x="711.02" y="35.61" width="20.34" height="19.51" fill="#f06043"/><rect x="730.36" y="35.61" width="20.34" height="19.51" fill="#f37852"/><rect x="749.70" y="35.61" width="20.34" height="19.51" fill="#bd1655"/><rect x="769.04" y="35.61" width="20.34" height="19.51" fill="#a11a5b"/><rect x="788.38" y="35.61" width="20.34" height="19.51" fill="#591e50"/><rect x="807.72" y="35.61" width="20.34" height="19.51" fill="#31183b"/><rect x="827.06" y="35.61" width="20.34" height="19.51" fill="#20122e"/><rect x="846.40" y="35.61" width="20.34" height="19.51" fill="#170f28"/><rect x="865.74" y="35.61" width="20.34" height="19.51" fill="#08081e"/><rect x="885.08" y="35.61" width="20.34" height="19.51" fill="#35193e"/><rect x="904.42" y="35.61" width="20.34" height="19.51" fill="#461c48"/><rect x="923.76" y="35.61" width="20.34" height="19.51" fill="#861e5b"/><rect x="943.10" y="35.61" width="20.34" height="19.51" fill="#c51852"/><rect x="962.44" y="35.61" width="20.34" height="19.51" fill="#e43841"/><rect x="981.78" y="35.61" width="20.34" height="19.51" fill="#a6195a"/><rect x="1001.12" y="35.61" width="20.34" height="19.51" fill="#f47a54"/><rect x="1020.46" y="35.61" width="19.34" height="19.51" fill="#f7cdb1"/>
<rect x="653.00" y="54.13" width="20.34" height="19.51" fill="#f58d64"/><rect x="672.34" y="54.13" width="20.34" height="19.51" fill="#f3714d"/><rect x="691.68" y="54.13" width="20.34" height="19.51" fill="#f59067"/><rect x="711.02" y="54.13" width="20.34" height="19.51" fill="#ee543f"/><rect x="730.36" y="54.13" width="20.34" height="19.51" fill="#f37852"/><rect x="749.70" y="54.13" width="20.34" height="19.51" fill="#e23442"/><rect x="769.04" y="54.13" width="20.34" height="19.51" fill="#a8185a"/><rect x="788.38" y="54.13" width="20.34" height="19.51" fill="#6d1f56"/><rect x="807.72" y="54.13" width="20.34" height="19.51" fill="#31183b"/><rect x="827.06" y="54.13" width="20.34" height="19.51" fill="#281535"/><rect x="846.40" y="54.13" width="20.34" height="19.51" fill="#0e0b22"/><rect x="865.74" y="54.13" width="20.34" height="19.51" fill="#0e0b22"/><rect x="885.08" y="54.13" width="20.34" height="19.51" fill="#20122e"/><rect x="904.42" y="54.13" width="20.34" height="19.51" fill="#3f1b43"/><rect x="923.76" y="54.13" width="20.34" height="19.51" fill="#451c47"/><rect x="943.10" y="54.13" width="20.34" height="19.51" fill="#bd1655"/><rect x="962.44" y="54.13" width="20.34" height="19.51" fill="#b71657"/><rect x="981.78" y="54.13" width="20.34" height="19.51" fill="#e73d3f"/><rect x="1001.12" y="54.13" width="20.34" height="19.51" fill="#ee523f"/><rect x="1020.46" y="54.13" width="19.34" height="19.51" fill="#f69c73"/>
<rect x="653.00" y="72.64" width="20.34" height="19.51" fill="#f47f58"/><rect x="672.34" y="72.64" width="20.34" height="19.51" fill="#f6ae87"/><rect x="691.68" y="72.64" width="20.34" height="19.51" fill="#f47d57"/><rect x="711.02" y="72.64" width="20.34" height="19.51" fill="#e33641"/><rect x="730.36" y="72.64" width="20.34" height="19.51" fill="#f26d4b"/><rect x="749.70" y="72.64" width="20.34" height="19.51" fill="#d62449"/><rect x="769.04" y="72.64" width="20.34" height="19.51" fill="#a8185a"/><rect x="788.38" y="72.64" width="20.34" height="19.51" fill="#601f52"/><rect x="807.72" y="72.64" width="20.34" height="19.51" fill="#34193d"/><rect x="827.06" y="72.64" width="20.34" height="19.51" fill="#20122e"/><rect x="846.40" y="72.64" width="20.34" height="19.51" fill="#110c24"/><rect x="865.74" y="72.64" width="20.34" height="19.51" fill="#110c24"/><rect x="885.08" y="72.64" width="20.34" height="19.51" fill="#1e122d"/><rect x="904.42" y="72.64" width="20.34" height="19.51" fill="#3f1b43"/><rect x="923.76" y="72.64" width="20.34" height="19.51" fill="#491d49"/><rect x="943.10" y="72.64" width="20.34" height="19.51" fill="#9c1b5b"/><rect x="962.44" y="72.64" width="20.34" height="19.51" fill="#db2946"/><rect x="981.78" y="72.64" width="20.34" height="19.51" fill="#e63b40"/><rect x="1001.12" y="72.64" width="20.34" height="19.51" fill="#ed4e3e"/><rect x="1020.46" y="72.64" width="19.34" height="19.51" fill="#f59269"/>
<rect x="653.00" y="91.16" width="20.34" height="19.51" fill="#f6b38d"/><rect x="672.34" y="91.16" width="20.34" height="19.51" fill="#f6b38d"/><rect x="691.68" y="91.16" width="20.34" height="19.51" fill="#f05c42"/><rect x="711.02" y="91.16" width="20.34" height="19.51" fill="#eb483e"/><rect x="730.36" y="91.16" width="20.34" height="19.51" fill="#e83f3f"/><rect x="749.70" y="91.16" width="20.34" height="19.51" fill="#d2204c"/><rect x="769.04" y="91.16" width="20.34" height="19.51" fill="#861e5b"/><rect x="788.38" y="91.16" width="20.34" height="19.51" fill="#461c48"/><rect x="807.72" y="91.16" width="20.34" height="19.51" fill="#33183c"/><rect x="827.06" y="91.16" width="20.34" height="19.51" fill="#1a102a"/><rect x="846.40" y="91.16" width="20.34" height="19.51" fill="#0e0b22"/><rect x="865.74" y="91.16" width="20.34" height="19.51" fill="#140e26"/><rect x="885.08" y="91.16" width="20.34" height="19.51" fill="#35193e"/><rect x="904.42" y="91.16" width="20.34" height="19.51" fill="#3c1a42"/><rect x="923.76" y="91.16" width="20.34" height="19.51" fill="#921c5b"/><rect x="943.10" y="91.16" width="20.34" height="19.51" fill="#b21758"/><rect x="962.44" y="91.16" width="20.34" height="19.51" fill="#d82748"/><rect x="981.78" y="91.16" width="20.34" height="19.51" fill="#e9423e"/><rect x="1001.12" y="91.16" width="20.34" height="19.51" fill="#f05e42"/><rect x="1020.46" y="91.16" width="19.34" height="19.51" fill="#f6a67e"/>
<rect x="653.00" y="109.67" width="20.34" height="19.51" fill="#ee543f"/><rect x="672.34" y="109.67" width="20.34" height="19.51" fill="#f69b71"/><rect x="691.68" y="109.67" width="20.34" height="19.51" fill="#f05e42"/><rect x="711.02" y="109.67" width="20.34" height="19.51" fill="#f26b49"/><rect x="730.36" y="109.67" width="20.34" height="19.51" fill="#9a1b5b"/><rect x="749.70" y="109.67" width="20.34" height="19.51" fill="#8e1d5b"/><rect x="769.04" y="109.67" width="20.34" height="19.51" fill="#5e1f52"/><rect x="788.38" y="109.67" width="20.34" height="19.51" fill="#30173a"/><rect x="807.72" y="109.67" width="20.34" height="19.51" fill="#2e1739"/><rect x="827.06" y="109.67" width="20.34" height="19.51" fill="#130d25"/><rect x="846.40" y="109.67" width="20.34" height="19.51" fill="#170f28"/><rect x="865.74" y="109.67" width="20.34" height="19.51" fill="#2d1738"/><rect x="885.08" y="109.67" width="20.34" height="19.51" fill="#531e4d"/><rect x="904.42" y="109.67" width="20.34" height="19.51" fill="#751f58"/><rect x="923.76" y="109.67" width="20.34" height="19.51" fill="#821e5a"/><rect x="943.10" y="109.67" width="20.34" height="19.51" fill="#d62449"/><rect x="962.44" y="109.67" width="20.34" height="19.51" fill="#e9423e"/><rect x="981.78" y="109.67" width="20.34" height="19.51" fill="#f4865e"/><rect x="1001.12" y="109.67" width="20.34" height="19.51" fill="#f6a981"/><rect x="1020.46" y="109.67" width="19.34" height="19.51" fill="#f5976e"/>
<rect x="653.00" y="128.19" width="20.34" height="19.51" fill="#f6b38d"/><rect x="672.34" y="128.19" width="20.34" height="19.51" fill="#b91657"/><rect x="691.68" y="128.19" width="20.34" height="19.51" fill="#ee523f"/><rect x="711.02" y="128.19" width="20.34" height="19.51" fill="#ef5840"/><rect x="730.36" y="128.19" width="20.34" height="19.51" fill="#b41658"/><rect x="749.70" y="128.19" width="20.34" height="19.51" fill="#711f57"/><rect x="769.04" y="128.19" width="20.34" height="19.51" fill="#601f52"/><rect x="788.38" y="128.19" width="20.34" height="19.51" fill="#1b112b"/><rect x="807.72" y="128.19" width="20.34" height="19.51" fill="#140e26"/><rect x="827.06" y="128.19" width="20.34" height="19.51" fill="#160e27"/><rect x="846.40" y="128.19" width="20.34" height="19.51" fill="#251433"/><rect x="865.74" y="128.19" width="20.34" height="19.51" fill="#31183b"/><rect x="885.08" y="128.19" width="20.34" height="19.51" fill="#5c1e51"/><rect x="904.42" y="128.19" width="20.34" height="19.51" fill="#ab185a"/><rect x="923.76" y="128.19" width="20.34" height="19.51" fill="#c41753"/><rect x="943.10" y="128.19" width="20.34" height="19.51" fill="#ef5a41"/><rect x="962.44" y="128.19" width="20.34" height="19.51" fill="#b51657"/><rect x="981.78" y="128.19" width="20.34" height="19.51" fill="#f58b63"/><rect x="1001.12" y="128.19" width="20.34" height="19.51" fill="#f7d0b5"/><rect x="1020.46" y="128.19" width="19.34" height="19.51" fill="#f47a54"/>
<rect x="653.00" y="146.70" width="20.34" height="19.51" fill="#ef5a41"/><rect x="672.34" y="146.70" width="20.34" height="19.51" fill="#f4865e"/><rect x="691.68" y="146.70" width="20.34" height="19.51" fill="#cf1e4d"/><rect x="711.02" y="146.70" width="20.34" height="19.51" fill="#dc2b46"/><rect x="730.36" y="146.70" width="20.34" height="19.51" fill="#861e5b"/><rect x="749.70" y="146.70" width="20.34" height="19.51" fill="#701f57"/><rect x="769.04" y="146.70" width="20.34" height="19.51" fill="#4b1d4a"/><rect x="788.38" y="146.70" width="20.34" height="19.51" fill="#160e27"/><rect x="807.72" y="146.70" width="20.34" height="19.51" fill="#05061b"/><rect x="827.06" y="146.70" width="20.34" height="19.51" fill="#110c24"/><rect x="846.40" y="146.70" width="20.34" height="19.51" fill="#20122e"/><rect x="865.74" y="146.70" width="20.34" height="19.51" fill="#401b44"/><rect x="885.08" y="146.70" width="20.34" height="19.51" fill="#691f55"/><rect x="904.42" y="146.70" width="20.34" height="19.51" fill="#b51657"/><rect x="923.76" y="146.70" width="20.34" height="19.51" fill="#eb463e"/><rect x="943.10" y="146.70" width="20.34" height="19.51" fill="#ea443e"/><rect x="962.44" y="146.70" width="20.34" height="19.51" fill="#f47d57"/><rect x="981.78" y="146.70" width="20.34" height="19.51" fill="#f26f4c"/><rect x="1001.12" y="146.70" width="20.34" height="19.51" fill="#f6b893"/><rect x="1020.46" y="146.70" width="19.34" height="19.51" fill="#f47f58"/>
<rect x="653.00" y="165.22" width="20.34" height="19.51" fill="#f69c73"/><rect x="672.34" y="165.22" width="20.34" height="19.51" fill="#f26747"/><rect x="691.68" y="165.22" width="20.34" height="19.51" fill="#dd2c45"/><rect x="711.02" y="165.22" width="20.34" height="19.51" fill="#ed4e3e"/><rect x="730.36" y="165.22" width="20.34" height="19.51" fill="#aa185a"/><rect x="749.70" y="165.22" width="20.34" height="19.51" fill="#591e50"/><rect x="769.04" y="165.22" width="20.34" height="19.51" fill="#491d49"/><rect x="788.38" y="165.22" width="20.34" height="19.51" fill="#20122e"/><rect x="807.72" y="165.22" width="20.34" height="19.51" fill="#0e0b22"/><rect x="827.06" y="165.22" width="20.34" height="19.51" fill="#130d25"/><rect x="846.40" y="165.22" width="20.34" height="19.51" fill="#1e122d"/><rect x="865.74" y="165.22" width="20.34" height="19.51" fill="#35193e"/><rect x="885.08" y="165.22" width="20.34" height="19.51" fill="#5e1f52"/><rect x="904.42" y="165.22" width="20.34" height="19.51" fill="#b51657"/><rect x="923.76" y="165.22" width="20.34" height="19.51" fill="#de2e44"/><rect x="943.10" y="165.22" width="20.34" height="19.51" fill="#f26d4b"/><rect x="962.44" y="165.22" width="20.34" height="19.51" fill="#f16445"/><rect x="981.78" y="165.22" width="20.34" height="19.51" fill="#f26948"/><rect x="1001.12" y="165.22" width="20.34" height="19.51" fill="#f8d3ba"/><rect x="1020.46" y="165.22" width="19.34" height="19.51" fill="#f5976e"/>
<rect x="653.00" y="183.73" width="20.34" height="19.51" fill="#f6a178"/><rect x="672.34" y="183.73" width="20.34" height="19.51" fill="#ee523f"/><rect x="691.68" y="183.73" width="20.34" height="19.51" fill="#ec4c3e"/><rect x="711.02" y="183.73" width="20.34" height="19.51" fill="#f16445"/><rect x="730.36" y="183.73" width="20.34" height="19.51" fill="#d2204c"/><rect x="749.70" y="183.73" width="20.34" height="19.51" fill="#9a1b5b"/><rect x="769.04" y="183.73" width="20.34" height="19.51" fill="#4b1d4a"/><rect x="788.38" y="183.73" width="20.34" height="19.51" fill="#34193d"/><rect x="807.72" y="183.73" width="20.34" height="19.51" fill="#221331"/><rect x="827.06" y="183.73" width="20.34" height="19.51" fill="#170f28"/><rect x="846.40" y="183.73" width="20.34" height="19.51" fill="#170f28"/><rect x="865.74" y="183.73" width="20.34" height="19.51" fill="#2e1739"/><rect x="885.08" y="183.73" width="20.34" height="19.51" fill="#461c48"/><rect x="904.42" y="183.73" width="20.34" height="19.51" fill="#871e5b"/><rect x="923.76" y="183.73" width="20.34" height="19.51" fill="#bd1655"/><rect x="943.10" y="183.73" width="20.34" height="19.51" fill="#bd1655"/><rect x="962.44" y="183.73" width="20.34" height="19.51" fill="#e8403e"/><rect x="981.78" y="183.73" width="20.34" height="19.51" fill="#f16244"/><rect x="1001.12" y="183.73" width="20.34" height="19.51" fill="#f6b38d"/><rect x="1020.46" y="183.73" width="19.34" height="19.51" fill="#f6b893"/>
<rect x="653.00" y="202.25" width="20.34" height="19.51" fill="#f16646"/><rect x="672.34" y="202.25" width="20.34" height="19.51" fill="#f58d64"/><rect x="691.68" y="202.25" width="20.34" height="19.51" fill="#f6a077"/><rect x="711.02" y="202.25" width="20.34" height="19.51" fill="#dd2c45"/><rect x="730.36" y="202.25" width="20.34" height="19.51" fill="#d92847"/><rect x="749.70" y="202.25" width="20.34" height="19.51" fill="#bd1655"/><rect x="769.04" y="202.25" width="20.34" height="19.51" fill="#7a1f59"/><rect x="788.38" y="202.25" width="20.34" height="19.51" fill="#581e4f"/><rect x="807.72" y="202.25" width="20.34" height="19.51" fill="#211330"/><rect x="827.06" y="202.25" width="20.34" height="19.51" fill="#1e122d"/><rect x="846.40" y="202.25" width="20.34" height="19.51" fill="#170f28"/><rect x="865.74" y="202.25" width="20.34" height="19.51" fill="#221331"/><rect x="885.08" y="202.25" width="20.34" height="19.51" fill="#3f1b43"/><rect x="904.42" y="202.25" width="20.34" height="19.51" fill="#481c48"/><rect x="923.76" y="202.25" width="20.34" height="19.51" fill="#8e1d5b"/><rect x="943.10" y="202.25" width="20.34" height="19.51" fill="#ba1656"/><rect x="962.44" y="202.25" width="20.34" height="19.51" fill="#e33641"/><rect x="981.78" y="202.25" width="20.34" height="19.51" fill="#f58b63"/><rect x="1001.12" y="202.25" width="20.34" height="19.51" fill="#f5966c"/><rect x="1020.46" y="202.25" width="19.34" height="19.51" fill="#f37450"/>
<rect x="653.00" y="220.76" width="20.34" height="19.51" fill="#c21753"/><rect x="672.34" y="220.76" width="20.34" height="19.51" fill="#f6a37a"/><rect x="691.68" y="220.76" width="20.34" height="19.51" fill="#f8d1b8"/><rect x="711.02" y="220.76" width="20.34" height="19.51" fill="#f26948"/><rect x="730.36" y="220.76" width="20.34" height="19.51" fill="#f16646"/><rect x="749.70" y="220.76" width="20.34" height="19.51" fill="#c71951"/><rect x="769.04" y="220.76" width="20.34" height="19.51" fill="#981b5b"/><rect x="788.38" y="220.76" width="20.34" height="19.51" fill="#711f57"/><rect x="807.72" y="220.76" width="20.34" height="19.51" fill="#381a40"/><rect x="827.06" y="220.76" width="20.34" height="19.51" fill="#20122e"/><rect x="846.40" y="220.76" width="20.34" height="19.51" fill="#140e26"/><rect x="865.74" y="220.76" width="20.34" height="19.51" fill="#100b23"/><rect x="885.08" y="220.76" width="20.34" height="19.51" fill="#20122e"/><rect x="904.42" y="220.76" width="20.34" height="19.51" fill="#34193d"/><rect x="923.76" y="220.76" width="20.34" height="19.51" fill="#641f54"/><rect x="943.10" y="220.76" width="20.34" height="19.51" fill="#901d5b"/><rect x="962.44" y="220.76" width="20.34" height="19.51" fill="#c51852"/><rect x="981.78" y="220.76" width="20.34" height="19.51" fill="#f26b49"/><rect x="1001.12" y="220.76" width="20.34" height="19.51" fill="#f05c42"/><rect x="1020.46" y="220.76" width="19.34" height="19.51" fill="#f6a178"/>
<rect x="653.00" y="239.28" width="20.34" height="19.51" fill="#f58a61"/><rect x="672.34" y="239.28" width="20.34" height="19.51" fill="#f3714d"/><rect x="691.68" y="239.28" width="20.34" height="19.51" fill="#f6ae87"/><rect x="711.02" y="239.28" width="20.34" height="19.51" fill="#f37852"/><rect x="730.36" y="239.28" width="20.34" height="19.51" fill="#ec4a3e"/><rect x="749.70" y="239.28" width="20.34" height="19.51" fill="#d3214b"/><rect x="769.04" y="239.28" width="20.34" height="19.51" fill="#891e5b"/><rect x="788.38" y="239.28" width="20.34" height="19.51" fill="#7d1f5a"/><rect x="807.72" y="239.28" width="20.34" height="19.51" fill="#401b44"/><rect x="827.06" y="239.28" width="20.34" height="19.51" fill="#1e122d"/><rect x="846.40" y="239.28" width="20.34" height="19.51" fill="#110c24"/><rect x="865.74" y="239.28" width="20.34" height="19.51" fill="#130d25"/><rect x="885.08" y="239.28" width="20.34" height="19.51" fill="#110c24"/><rect x="904.42" y="239.28" width="20.34" height="19.51" fill="#461c48"/><rect x="923.76" y="239.28" width="20.34" height="19.51" fill="#581e4f"/><rect x="943.10" y="239.28" width="20.34" height="19.51" fill="#8b1d5b"/><rect x="962.44" y="239.28" width="20.34" height="19.51" fill="#c21753"/><rect x="981.78" y="239.28" width="20.34" height="19.51" fill="#e8403e"/><rect x="1001.12" y="239.28" width="20.34" height="19.51" fill="#f4815a"/><rect x="1020.46" y="239.28" width="19.34" height="19.51" fill="#ee543f"/>
<rect x="653.00" y="257.79" width="20.34" height="19.51" fill="#f47f58"/><rect x="672.34" y="257.79" width="20.34" height="19.51" fill="#f26d4b"/><rect x="691.68" y="257.79" width="20.34" height="19.51" fill="#f6bb97"/><rect x="711.02" y="257.79" width="20.34" height="19.51" fill="#f4845d"/><rect x="730.36" y="257.79" width="20.34" height="19.51" fill="#ed503e"/><rect x="749.70" y="257.79" width="20.34" height="19.51" fill="#c71951"/><rect x="769.04" y="257.79" width="20.34" height="19.51" fill="#7b1f59"/><rect x="788.38" y="257.79" width="20.34" height="19.51" fill="#6b1f56"/><rect x="807.72" y="257.79" width="20.34" height="19.51" fill="#35193e"/><rect x="827.06" y="257.79" width="20.34" height="19.51" fill="#180f29"/><rect x="846.40" y="257.79" width="20.34" height="19.51" fill="#110c24"/><rect x="865.74" y="257.79" width="20.34" height="19.51" fill="#180f29"/><rect x="885.08" y="257.79" width="20.34" height="19.51" fill="#2a1636"/><rect x="904.42" y="257.79" width="20.34" height="19.51" fill="#561e4f"/><rect x="923.76" y="257.79" width="20.34" height="19.51" fill="#7f1e5a"/><rect x="943.10" y="257.79" width="20.34" height="19.51" fill="#9a1b5b"/><rect x="962.44" y="257.79" width="20.34" height="19.51" fill="#bf1654"/><rect x="981.78" y="257.79" width="20.34" height="19.51" fill="#f05e42"/><rect x="1001.12" y="257.79" width="20.34" height="19.51" fill="#f37450"/><rect x="1020.46" y="257.79" width="19.34" height="19.51" fill="#f6ab83"/>
<rect x="653.00" y="276.31" width="20.34" height="19.51" fill="#f47a54"/><rect x="672.34" y="276.31" width="20.34" height="19.51" fill="#f37450"/><rect x="691.68" y="276.31" width="20.34" height="19.51" fill="#f69b71"/><rect x="711.02" y="276.31" width="20.34" height="19.51" fill="#f26948"/><rect x="730.36" y="276.31" width="20.34" height="19.51" fill="#dc2b46"/><rect x="749.70" y="276.31" width="20.34" height="19.51" fill="#8c1d5b"/><rect x="769.04" y="276.31" width="20.34" height="19.51" fill="#7a1f59"/><rect x="788.38" y="276.31" width="20.34" height="19.51" fill="#3c1a42"/><rect x="807.72" y="276.31" width="20.34" height="19.51" fill="#2d1738"/><rect x="827.06" y="276.31" width="20.34" height="19.51" fill="#1d112c"/><rect x="846.40" y="276.31" width="20.34" height="19.51" fill="#1a102a"/><rect x="865.74" y="276.31" width="20.34" height="19.51" fill="#160e27"/><rect x="885.08" y="276.31" width="20.34" height="19.51" fill="#531e4d"/><rect x="904.42" y="276.31" width="20.34" height="19.51" fill="#5e1f52"/><rect x="923.76" y="276.31" width="20.34" height="19.51" fill="#8e1d5b"/><rect x="943.10" y="276.31" width="20.34" height="19.51" fill="#c41753"/><rect x="962.44" y="276.31" width="20.34" height="19.51" fill="#d92847"/><rect x="981.78" y="276.31" width="20.34" height="19.51" fill="#f4815a"/><rect x="1001.12" y="276.31" width="20.34" height="19.51" fill="#f6a077"/><rect x="1020.46" y="276.31" width="19.34" height="19.51" fill="#f59269"/>
<rect x="653.00" y="294.82" width="20.34" height="19.51" fill="#f59269"/><rect x="672.34" y="294.82" width="20.34" height="19.51" fill="#f6a077"/><rect x="691.68" y="294.82" width="20.34" height="19.51" fill="#d11f4c"/><rect x="711.02" y="294.82" width="20.34" height="19.51" fill="#d82748"/><rect x="730.36" y="294.82" width="20.34" height="19.51" fill="#bc1656"/><rect x="749.70" y="294.82" width="20.34" height="19.51" fill="#7a1f59"/><rect x="769.04" y="294.82" width="20.34" height="19.51" fill="#631f53"/><rect x="788.38" y="294.82" width="20.34" height="19.51" fill="#140e26"/><rect x="807.72" y="294.82" width="20.34" height="19.51" fill="#271534"/><rect x="827.06" y="294.82" width="20.34" height="19.51" fill="#180f29"/><rect x="846.40" y="294.82" width="20.34" height="19.51" fill="#1b112b"/><rect x="865.74" y="294.82" width="20.34" height="19.51" fill="#33183c"/><rect x="885.08" y="294.82" width="20.34" height="19.51" fill="#3f1b43"/><rect x="904.42" y="294.82" width="20.34" height="19.51" fill="#951c5b"/><rect x="923.76" y="294.82" width="20.34" height="19.51" fill="#b51657"/><rect x="943.10" y="294.82" width="20.34" height="19.51" fill="#ea443e"/><rect x="962.44" y="294.82" width="20.34" height="19.51" fill="#f47d57"/><rect x="981.78" y="294.82" width="20.34" height="19.51" fill="#f26d4b"/><rect x="1001.12" y="294.82" width="20.34" height="19.51" fill="#f47f58"/><rect x="1020.46" y="294.82" width="19.34" height="19.51" fill="#f6a178"/>
<rect x="653.00" y="313.34" width="20.34" height="19.51" fill="#f6a178"/><rect x="672.34" y="313.34" width="20.34" height="19.51" fill="#f6ae87"/><rect x="691.68" y="313.34" width="20.34" height="19.51" fill="#ed503e"/><rect x="711.02" y="313.34" width="20.34" height="19.51" fill="#cd1c4e"/><rect x="730.36" y="313.34" width="20.34" height="19.51" fill="#9e1a5b"/><rect x="749.70" y="313.34" width="20.34" height="19.51" fill="#5c1e51"/><rect x="769.04" y="313.34" width="20.34" height="19.51" fill="#3f1b43"/><rect x="788.38" y="313.34" width="20.34" height="19.51" fill="#221331"/><rect x="807.72" y="313.34" width="20.34" height="19.51" fill="#06071c"/><rect x="827.06" y="313.34" width="20.34" height="19.51" fill="#170f28"/><rect x="846.40" y="313.34" width="20.34" height="19.51" fill="#1e122d"/><rect x="865.74" y="313.34" width="20.34" height="19.51" fill="#461c48"/><rect x="885.08" y="313.34" width="20.34" height="19.51" fill="#691f55"/><rect x="904.42" y="313.34" width="20.34" height="19.51" fill="#b21758"/><rect x="923.76" y="313.34" width="20.34" height="19.51" fill="#b41658"/><rect x="943.10" y="313.34" width="20.34" height="19.51" fill="#ec4c3e"/><rect x="962.44" y="313.34" width="20.34" height="19.51" fill="#f6be9b"/><rect x="981.78" y="313.34" width="20.34" height="19.51" fill="#f58d64"/><rect x="1001.12" y="313.34" width="20.34" height="19.51" fill="#f6ae87"/><rect x="1020.46" y="313.34" width="19.34" height="19.51" fill="#af1759"/>
<rect x="653.00" y="331.85" width="20.34" height="19.51" fill="#f16646"/><rect x="672.34" y="331.85" width="20.34" height="19.51" fill="#f69b71"/><rect x="691.68" y="331.85" width="20.34" height="19.51" fill="#cd1c4e"/><rect x="711.02" y="331.85" width="20.34" height="19.51" fill="#d82748"/><rect x="730.36" y="331.85" width="20.34" height="19.51" fill="#aa185a"/><rect x="749.70" y="331.85" width="20.34" height="19.51" fill="#511e4d"/><rect x="769.04" y="331.85" width="20.34" height="19.51" fill="#3f1b43"/><rect x="788.38" y="331.85" width="20.34" height="19.51" fill="#1b112b"/><rect x="807.72" y="331.85" width="20.34" height="19.51" fill="#170f28"/><rect x="827.06" y="331.85" width="20.34" height="19.51" fill="#0e0b22"/><rect x="846.40" y="331.85" width="20.34" height="19.51" fill="#20122e"/><rect x="865.74" y="331.85" width="20.34" height="19.51" fill="#431c46"/><rect x="885.08" y="331.85" width="20.34" height="19.51" fill="#681f55"/><rect x="904.42" y="331.85" width="20.34" height="19.51" fill="#a4195b"/><rect x="923.76" y="331.85" width="20.34" height="19.51" fill="#d2204c"/><rect x="943.10" y="331.85" width="20.34" height="19.51" fill="#e13342"/><rect x="962.44" y="331.85" width="20.34" height="19.51" fill="#f4845d"/><rect x="981.78" y="331.85" width="20.34" height="19.51" fill="#f58b63"/><rect x="1001.12" y="331.85" width="20.34" height="19.51" fill="#f4845d"/><rect x="1020.46" y="331.85" width="19.34" height="19.51" fill="#f59269"/>
<rect x="653.00" y="350.37" width="20.34" height="19.51" fill="#f26b49"/><rect x="672.34" y="350.37" width="20.34" height="19.51" fill="#f6b995"/><rect x="691.68" y="350.37" width="20.34" height="19.51" fill="#f06043"/><rect x="711.02" y="350.37" width="20.34" height="19.51" fill="#db2946"/><rect x="730.36" y="350.37" width="20.34" height="19.51" fill="#bf1654"/><rect x="749.70" y="350.37" width="20.34" height="19.51" fill="#6e1f57"/><rect x="769.04" y="350.37" width="20.34" height="19.51" fill="#691f55"/><rect x="788.38" y="350.37" width="20.34" height="19.51" fill="#2d1738"/><rect x="807.72" y="350.37" width="20.34" height="19.51" fill="#140e26"/><rect x="827.06" y="350.37" width="20.34" height="19.51" fill="#160e27"/><rect x="846.40" y="350.37" width="20.34" height="19.51" fill="#180f29"/><rect x="865.74" y="350.37" width="20.34" height="19.51" fill="#30173a"/><rect x="885.08" y="350.37" width="20.34" height="19.51" fill="#661f54"/><rect x="904.42" y="350.37" width="20.34" height="19.51" fill="#971c5b"/><rect x="923.76" y="350.37" width="20.34" height="19.51" fill="#9f1a5b"/><rect x="943.10" y="350.37" width="20.34" height="19.51" fill="#c81951"/><rect x="962.44" y="350.37" width="20.34" height="19.51" fill="#f37651"/><rect x="981.78" y="350.37" width="20.34" height="19.51" fill="#f4845d"/><rect x="1001.12" y="350.37" width="20.34" height="19.51" fill="#f6a077"/><rect x="1020.46" y="350.37" width="19.34" height="19.51" fill="#f58d64"/>
<rect x="653.00" y="368.88" width="20.34" height="18.51" fill="#f47a54"/><rect x="672.34" y="368.88" width="20.34" height="18.51" fill="#f6bb97"/><rect x="691.68" y="368.88" width="20.34" height="18.51" fill="#f5966c"/><rect x="711.02" y="368.88" width="20.34" height="18.51" fill="#f47a54"/><rect x="730.36" y="368.88" width="20.34" height="18.51" fill="#b21758"/><rect x="749.70" y="368.88" width="20.34" height="18.51" fill="#9a1b5b"/><rect x="769.04" y="368.88" width="20.34" height="18.51" fill="#8c1d5b"/><rect x="788.38" y="368.88" width="20.34" height="18.51" fill="#3a1a41"/><rect x="807.72" y="368.88" width="20.34" height="18.51" fill="#31183b"/><rect x="827.06" y="368.88" width="20.34" height="18.51" fill="#140e26"/><rect x="846.40" y="368.88" width="20.34" height="18.51" fill="#140e26"/><rect x="865.74" y="368.88" width="20.34" height="18.51" fill="#20122e"/><rect x="885.08" y="368.88" width="20.34" height="18.51" fill="#461c48"/><rect x="904.42" y="368.88" width="20.34" height="18.51" fill="#591e50"/><rect x="923.76" y="368.88" width="20.34" height="18.51" fill="#a4195b"/><rect x="943.10" y="368.88" width="20.34" height="18.51" fill="#c11754"/><rect x="962.44" y="368.88" width="20.34" height="18.51" fill="#f16445"/><rect x="981.78" y="368.88" width="20.34" height="18.51" fill="#f5966c"/><rect x="1001.12" y="368.88" width="20.34" height="18.51" fill="#f58d64"/><rect x="1020.46" y="368.88" width="19.34" height="18.51" fill="#f47a54"/>
<line class="tk" x1="648.60" y1="26.36" x2="653.00" y2="26.36"/><text class="t" transform="translate(642.60,31.18) scale(1,1.080)" text-anchor="end">3.14</text>
<line class="tk" x1="648.60" y1="44.87" x2="653.00" y2="44.87"/><text class="t" transform="translate(642.60,49.70) scale(1,1.080)" text-anchor="end">2.81</text>
<line class="tk" x1="648.60" y1="63.39" x2="653.00" y2="63.39"/><text class="t" transform="translate(642.60,68.21) scale(1,1.080)" text-anchor="end">2.48</text>
<line class="tk" x1="648.60" y1="81.90" x2="653.00" y2="81.90"/><text class="t" transform="translate(642.60,86.73) scale(1,1.080)" text-anchor="end">2.15</text>
<line class="tk" x1="648.60" y1="100.42" x2="653.00" y2="100.42"/><text class="t" transform="translate(642.60,105.24) scale(1,1.080)" text-anchor="end">1.82</text>
<line class="tk" x1="648.60" y1="118.93" x2="653.00" y2="118.93"/><text class="t" transform="translate(642.60,123.76) scale(1,1.080)" text-anchor="end">1.49</text>
<line class="tk" x1="648.60" y1="137.45" x2="653.00" y2="137.45"/><text class="t" transform="translate(642.60,142.27) scale(1,1.080)" text-anchor="end">1.16</text>
<line class="tk" x1="648.60" y1="155.96" x2="653.00" y2="155.96"/><text class="t" transform="translate(642.60,160.79) scale(1,1.080)" text-anchor="end">0.83</text>
<line class="tk" x1="648.60" y1="174.48" x2="653.00" y2="174.48"/><text class="t" transform="translate(642.60,179.30) scale(1,1.080)" text-anchor="end">0.5</text>
<line class="tk" x1="648.60" y1="192.99" x2="653.00" y2="192.99"/><text class="t" transform="translate(642.60,197.82) scale(1,1.080)" text-anchor="end">0.17</text>
<line class="tk" x1="648.60" y1="211.51" x2="653.00" y2="211.51"/><text class="t" transform="translate(642.60,216.33) scale(1,1.080)" text-anchor="end">-0.17</text>
<line class="tk" x1="648.60" y1="230.02" x2="653.00" y2="230.02"/><text class="t" transform="translate(642.60,234.85) scale(1,1.080)" text-anchor="end">-0.5</text>
<line class="tk" x1="648.60" y1="248.54" x2="653.00" y2="248.54"/><text class="t" transform="translate(642.60,253.36) scale(1,1.080)" text-anchor="end">-0.83</text>
<line class="tk" x1="648.60" y1="267.05" x2="653.00" y2="267.05"/><text class="t" transform="translate(642.60,271.88) scale(1,1.080)" text-anchor="end">-1.16</text>
<line class="tk" x1="648.60" y1="285.57" x2="653.00" y2="285.57"/><text class="t" transform="translate(642.60,290.39) scale(1,1.080)" text-anchor="end">-1.49</text>
<line class="tk" x1="648.60" y1="304.08" x2="653.00" y2="304.08"/><text class="t" transform="translate(642.60,308.91) scale(1,1.080)" text-anchor="end">-1.82</text>
<line class="tk" x1="648.60" y1="322.60" x2="653.00" y2="322.60"/><text class="t" transform="translate(642.60,327.42) scale(1,1.080)" text-anchor="end">-2.15</text>
<line class="tk" x1="648.60" y1="341.11" x2="653.00" y2="341.11"/><text class="t" transform="translate(642.60,345.94) scale(1,1.080)" text-anchor="end">-2.48</text>
<line class="tk" x1="648.60" y1="359.63" x2="653.00" y2="359.63"/><text class="t" transform="translate(642.60,364.45) scale(1,1.080)" text-anchor="end">-2.81</text>
<line class="tk" x1="648.60" y1="378.14" x2="653.00" y2="378.14"/><text class="t" transform="translate(642.60,382.97) scale(1,1.080)" text-anchor="end">-3.14</text>
<line class="tk" x1="662.67" y1="387.40" x2="662.67" y2="391.80"/><text class="t" transform="translate(666.59,399.10) rotate(-90) scale(1,1.080)" text-anchor="end">-3.14</text>
<line class="tk" x1="682.01" y1="387.40" x2="682.01" y2="391.80"/><text class="t" transform="translate(685.93,399.10) rotate(-90) scale(1,1.080)" text-anchor="end">-2.81</text>
<line class="tk" x1="701.35" y1="387.40" x2="701.35" y2="391.80"/><text class="t" transform="translate(705.27,399.10) rotate(-90) scale(1,1.080)" text-anchor="end">-2.48</text>
<line class="tk" x1="720.69" y1="387.40" x2="720.69" y2="391.80"/><text class="t" transform="translate(724.61,399.10) rotate(-90) scale(1,1.080)" text-anchor="end">-2.15</text>
<line class="tk" x1="740.03" y1="387.40" x2="740.03" y2="391.80"/><text class="t" transform="translate(743.95,399.10) rotate(-90) scale(1,1.080)" text-anchor="end">-1.82</text>
<line class="tk" x1="759.37" y1="387.40" x2="759.37" y2="391.80"/><text class="t" transform="translate(763.29,399.10) rotate(-90) scale(1,1.080)" text-anchor="end">-1.49</text>
<line class="tk" x1="778.71" y1="387.40" x2="778.71" y2="391.80"/><text class="t" transform="translate(782.63,399.10) rotate(-90) scale(1,1.080)" text-anchor="end">-1.16</text>
<line class="tk" x1="798.05" y1="387.40" x2="798.05" y2="391.80"/><text class="t" transform="translate(801.97,399.10) rotate(-90) scale(1,1.080)" text-anchor="end">-0.83</text>
<line class="tk" x1="817.39" y1="387.40" x2="817.39" y2="391.80"/><text class="t" transform="translate(821.31,399.10) rotate(-90) scale(1,1.080)" text-anchor="end">-0.5</text>
<line class="tk" x1="836.73" y1="387.40" x2="836.73" y2="391.80"/><text class="t" transform="translate(840.65,399.10) rotate(-90) scale(1,1.080)" text-anchor="end">-0.17</text>
<line class="tk" x1="856.07" y1="387.40" x2="856.07" y2="391.80"/><text class="t" transform="translate(859.99,399.10) rotate(-90) scale(1,1.080)" text-anchor="end">0.17</text>
<line class="tk" x1="875.41" y1="387.40" x2="875.41" y2="391.80"/><text class="t" transform="translate(879.33,399.10) rotate(-90) scale(1,1.080)" text-anchor="end">0.5</text>
<line class="tk" x1="894.75" y1="387.40" x2="894.75" y2="391.80"/><text class="t" transform="translate(898.67,399.10) rotate(-90) scale(1,1.080)" text-anchor="end">0.83</text>
<line class="tk" x1="914.09" y1="387.40" x2="914.09" y2="391.80"/><text class="t" transform="translate(918.01,399.10) rotate(-90) scale(1,1.080)" text-anchor="end">1.16</text>
<line class="tk" x1="933.43" y1="387.40" x2="933.43" y2="391.80"/><text class="t" transform="translate(937.35,399.10) rotate(-90) scale(1,1.080)" text-anchor="end">1.49</text>
<line class="tk" x1="952.77" y1="387.40" x2="952.77" y2="391.80"/><text class="t" transform="translate(956.69,399.10) rotate(-90) scale(1,1.080)" text-anchor="end">1.82</text>
<line class="tk" x1="972.11" y1="387.40" x2="972.11" y2="391.80"/><text class="t" transform="translate(976.03,399.10) rotate(-90) scale(1,1.080)" text-anchor="end">2.15</text>
<line class="tk" x1="991.45" y1="387.40" x2="991.45" y2="391.80"/><text class="t" transform="translate(995.37,399.10) rotate(-90) scale(1,1.080)" text-anchor="end">2.48</text>
<line class="tk" x1="1010.79" y1="387.40" x2="1010.79" y2="391.80"/><text class="t" transform="translate(1014.71,399.10) rotate(-90) scale(1,1.080)" text-anchor="end">2.81</text>
<line class="tk" x1="1030.13" y1="387.40" x2="1030.13" y2="391.80"/><text class="t" transform="translate(1034.05,399.10) rotate(-90) scale(1,1.080)" text-anchor="end">3.14</text>
<text class="ax" x="846.60" y="454.10" text-anchor="middle">ϕ</text>
<text class="ax" transform="translate(597.80,203.65) rotate(-90)" text-anchor="middle">θ</text>
<defs><linearGradient id="gb" x1="0" y1="0" x2="0" y2="1"><stop offset="0.0000" stop-color="#faebdd"/><stop offset="0.0156" stop-color="#fae6d6"/><stop offset="0.0312" stop-color="#f9e0cd"/><stop offset="0.0469" stop-color="#f8dac5"/><stop offset="0.0625" stop-color="#f8d4bc"/><stop offset="0.0781" stop-color="#f7cfb3"/><stop offset="0.0938" stop-color="#f7c9aa"/><stop offset="0.1094" stop-color="#f7c2a2"/><stop offset="0.1250" stop-color="#f6bc99"/><stop offset="0.1406" stop-color="#f6b691"/><stop offset="0.1562" stop-color="#f6b089"/><stop offset="0.1719" stop-color="#f6a981"/><stop offset="0.1875" stop-color="#f6a37a"/><stop offset="0.2031" stop-color="#f69c73"/><stop offset="0.2188" stop-color="#f5966c"/><stop offset="0.2344" stop-color="#f58f66"/><stop offset="0.2500" stop-color="#f58860"/><stop offset="0.2656" stop-color="#f4815a"/><stop offset="0.2812" stop-color="#f47a54"/><stop offset="0.2969" stop-color="#f3734e"/><stop offset="0.3125" stop-color="#f26b49"/><stop offset="0.3281" stop-color="#f16445"/><stop offset="0.3438" stop-color="#f05c42"/><stop offset="0.3594" stop-color="#ee543f"/><stop offset="0.3750" stop-color="#ec4c3e"/><stop offset="0.3906" stop-color="#ea443e"/><stop offset="0.4062" stop-color="#e73d3f"/><stop offset="0.4219" stop-color="#e33641"/><stop offset="0.4375" stop-color="#df2f44"/><stop offset="0.4531" stop-color="#db2946"/><stop offset="0.4688" stop-color="#d62449"/><stop offset="0.4844" stop-color="#d11f4c"/><stop offset="0.5000" stop-color="#cb1b4f"/><stop offset="0.5156" stop-color="#c51852"/><stop offset="0.5312" stop-color="#bf1654"/><stop offset="0.5469" stop-color="#b91657"/><stop offset="0.5625" stop-color="#b21758"/><stop offset="0.5781" stop-color="#ab185a"/><stop offset="0.5938" stop-color="#a4195b"/><stop offset="0.6094" stop-color="#9e1a5b"/><stop offset="0.6250" stop-color="#971c5b"/><stop offset="0.6406" stop-color="#901d5b"/><stop offset="0.6562" stop-color="#891e5b"/><stop offset="0.6719" stop-color="#821e5a"/><stop offset="0.6875" stop-color="#7b1f59"/><stop offset="0.7031" stop-color="#751f58"/><stop offset="0.7188" stop-color="#6e1f57"/><stop offset="0.7344" stop-color="#681f55"/><stop offset="0.7500" stop-color="#611f53"/><stop offset="0.7656" stop-color="#5b1e51"/><stop offset="0.7812" stop-color="#541e4e"/><stop offset="0.7969" stop-color="#4e1d4b"/><stop offset="0.8125" stop-color="#481c48"/><stop offset="0.8281" stop-color="#421b45"/><stop offset="0.8438" stop-color="#3c1a42"/><stop offset="0.8594" stop-color="#35193e"/><stop offset="0.8750" stop-color="#30173a"/><stop offset="0.8906" stop-color="#2a1636"/><stop offset="0.9062" stop-color="#241432"/><stop offset="0.9219" stop-color="#1e122d"/><stop offset="0.9375" stop-color="#180f29"/><stop offset="0.9531" stop-color="#130d25"/><stop offset="0.9688" stop-color="#0d0a21"/><stop offset="0.9844" stop-color="#07071d"/><stop offset="1.0000" stop-color="#03051a"/></linearGradient></defs>
<rect x="1064.10" y="17.10" width="18.50" height="370.30" fill="url(#gb)"/>
<line class="tk" x1="1082.60" y1="38.08" x2="1087.90" y2="38.08"/><text class="t" transform="translate(1092.90,43.71) scale(1,1.080)">3.0</text>
<line class="tk" x1="1082.60" y1="79.23" x2="1087.90" y2="79.23"/><text class="t" transform="translate(1092.90,84.85) scale(1,1.080)">2.5</text>
<line class="tk" x1="1082.60" y1="120.37" x2="1087.90" y2="120.37"/><text class="t" transform="translate(1092.90,126.00) scale(1,1.080)">2.0</text>
<line class="tk" x1="1082.60" y1="161.52" x2="1087.90" y2="161.52"/><text class="t" transform="translate(1092.90,167.14) scale(1,1.080)">1.5</text>
<line class="tk" x1="1082.60" y1="202.66" x2="1087.90" y2="202.66"/><text class="t" transform="translate(1092.90,208.29) scale(1,1.080)">1.0</text>
<line class="tk" x1="1082.60" y1="243.81" x2="1087.90" y2="243.81"/><text class="t" transform="translate(1092.90,249.43) scale(1,1.080)">0.5</text>
<line class="tk" x1="1082.60" y1="284.95" x2="1087.90" y2="284.95"/><text class="t" transform="translate(1092.90,290.57) scale(1,1.080)">0.0</text>
<line class="tk" x1="1082.60" y1="326.09" x2="1087.90" y2="326.09"/><text class="t" transform="translate(1092.90,331.72) scale(1,1.080)">−0.5</text>
<line class="tk" x1="1082.60" y1="367.24" x2="1087.90" y2="367.24"/><text class="t" transform="translate(1092.90,372.86) scale(1,1.080)">−1.0</text>
<text class="cap" y="491.1"><tspan x="843.00" font-size="33" textLength="9.5" lengthAdjust="spacingAndGlyphs">(</tspan><tspan x="854.30" font-size="29.7" textLength="17.00" lengthAdjust="spacingAndGlyphs">b</tspan><tspan x="872.30" font-size="33" textLength="9.5" lengthAdjust="spacingAndGlyphs">)</tspan></text>
</g>
<g>
<rect x="1227.40" y="14.60" width="20.34" height="19.60" fill="#caddf0"/><rect x="1246.75" y="14.60" width="20.34" height="19.60" fill="#89bedc"/><rect x="1266.09" y="14.60" width="20.34" height="19.60" fill="#e0ecf8"/><rect x="1285.44" y="14.60" width="20.34" height="19.60" fill="#bfd8ed"/><rect x="1304.78" y="14.60" width="20.34" height="19.60" fill="#e0ecf8"/><rect x="1324.12" y="14.60" width="20.34" height="19.60" fill="#99c7e0"/><rect x="1343.47" y="14.60" width="20.34" height="19.60" fill="#f4f9fe"/><rect x="1362.82" y="14.60" width="20.34" height="19.60" fill="#f4f9fe"/><rect x="1382.16" y="14.60" width="20.34" height="19.60" fill="#f2f7fd"/><rect x="1401.51" y="14.60" width="20.34" height="19.60" fill="#f4f9fe"/><rect x="1420.85" y="14.60" width="20.34" height="19.60" fill="#f2f7fd"/><rect x="1440.19" y="14.60" width="20.34" height="19.60" fill="#f3f8fe"/><rect x="1459.54" y="14.60" width="20.34" height="19.60" fill="#f4f9fe"/><rect x="1478.88" y="14.60" width="20.34" height="19.60" fill="#e8f1fa"/><rect x="1498.23" y="14.60" width="20.34" height="19.60" fill="#f5fafe"/><rect x="1517.58" y="14.60" width="20.34" height="19.60" fill="#d9e7f5"/><rect x="1536.92" y="14.60" width="20.34" height="19.60" fill="#caddf0"/><rect x="1556.26" y="14.60" width="20.34" height="19.60" fill="#cde0f1"/><rect x="1575.61" y="14.60" width="20.34" height="19.60" fill="#c6dbef"/><rect x="1594.95" y="14.60" width="19.34" height="19.60" fill="#d9e7f5"/>
<rect x="1227.40" y="33.20" width="20.34" height="19.60" fill="#add0e6"/><rect x="1246.75" y="33.20" width="20.34" height="19.60" fill="#caddf0"/><rect x="1266.09" y="33.20" width="20.34" height="19.60" fill="#2e7ebc"/><rect x="1285.44" y="33.20" width="20.34" height="19.60" fill="#add0e6"/><rect x="1304.78" y="33.20" width="20.34" height="19.60" fill="#f0f6fd"/><rect x="1324.12" y="33.20" width="20.34" height="19.60" fill="#caddf0"/><rect x="1343.47" y="33.20" width="20.34" height="19.60" fill="#e8f1fa"/><rect x="1362.82" y="33.20" width="20.34" height="19.60" fill="#e0ecf8"/><rect x="1382.16" y="33.20" width="20.34" height="19.60" fill="#e4eff9"/><rect x="1401.51" y="33.20" width="20.34" height="19.60" fill="#f4f9fe"/><rect x="1420.85" y="33.20" width="20.34" height="19.60" fill="#f0f6fd"/><rect x="1440.19" y="33.20" width="20.34" height="19.60" fill="#f0f6fd"/><rect x="1459.54" y="33.20" width="20.34" height="19.60" fill="#e8f1fa"/><rect x="1478.88" y="33.20" width="20.34" height="19.60" fill="#f4f9fe"/><rect x="1498.23" y="33.20" width="20.34" height="19.60" fill="#f4f9fe"/><rect x="1517.58" y="33.20" width="20.34" height="19.60" fill="#f4f9fe"/><rect x="1536.92" y="33.20" width="20.34" height="19.60" fill="#e8f1fa"/><rect x="1556.26" y="33.20" width="20.34" height="19.60" fill="#4292c6"/><rect x="1575.61" y="33.20" width="20.34" height="19.60" fill="#bfd8ed"/><rect x="1594.95" y="33.20" width="19.34" height="19.60" fill="#f0f6fd"/>
<rect x="1227.40" y="51.81" width="20.34" height="19.60" fill="#b3d3e8"/><rect x="1246.75" y="51.81" width="20.34" height="19.60" fill="#69add5"/><rect x="1266.09" y="51.81" width="20.34" height="19.60" fill="#a0cbe2"/><rect x="1285.44" y="51.81" width="20.34" height="19.60" fill="#71b1d7"/><rect x="1304.78" y="51.81" width="20.34" height="19.60" fill="#d5e5f4"/><rect x="1324.12" y="51.81" width="20.34" height="19.60" fill="#d1e2f3"/><rect x="1343.47" y="51.81" width="20.34" height="19.60" fill="#d5e5f4"/><rect x="1362.82" y="51.81" width="20.34" height="19.60" fill="#dceaf6"/><rect x="1382.16" y="51.81" width="20.34" height="19.60" fill="#dceaf6"/><rect x="1401.51" y="51.81" width="20.34" height="19.60" fill="#f4f9fe"/><rect x="1420.85" y="51.81" width="20.34" height="19.60" fill="#f4f9fe"/><rect x="1440.19" y="51.81" width="20.34" height="19.60" fill="#ecf4fb"/><rect x="1459.54" y="51.81" width="20.34" height="19.60" fill="#e8f1fa"/><rect x="1478.88" y="51.81" width="20.34" height="19.60" fill="#e8f1fa"/><rect x="1498.23" y="51.81" width="20.34" height="19.60" fill="#e0ecf8"/><rect x="1517.58" y="51.81" width="20.34" height="19.60" fill="#e0ecf8"/><rect x="1536.92" y="51.81" width="20.34" height="19.60" fill="#d1e2f3"/><rect x="1556.26" y="51.81" width="20.34" height="19.60" fill="#cde0f1"/><rect x="1575.61" y="51.81" width="20.34" height="19.60" fill="#a0cbe2"/><rect x="1594.95" y="51.81" width="19.34" height="19.60" fill="#c6dbef"/>
<rect x="1227.40" y="70.41" width="20.34" height="19.60" fill="#a0cbe2"/><rect x="1246.75" y="70.41" width="20.34" height="19.60" fill="#c6dbef"/><rect x="1266.09" y="70.41" width="20.34" height="19.60" fill="#89bedc"/><rect x="1285.44" y="70.41" width="20.34" height="19.60" fill="#4f9bcb"/><rect x="1304.78" y="70.41" width="20.34" height="19.60" fill="#d1e2f3"/><rect x="1324.12" y="70.41" width="20.34" height="19.60" fill="#caddf0"/><rect x="1343.47" y="70.41" width="20.34" height="19.60" fill="#d9e7f5"/><rect x="1362.82" y="70.41" width="20.34" height="19.60" fill="#d5e5f4"/><rect x="1382.16" y="70.41" width="20.34" height="19.60" fill="#e0ecf8"/><rect x="1401.51" y="70.41" width="20.34" height="19.60" fill="#f4f9fe"/><rect x="1420.85" y="70.41" width="20.34" height="19.60" fill="#f2f7fd"/><rect x="1440.19" y="70.41" width="20.34" height="19.60" fill="#ecf4fb"/><rect x="1459.54" y="70.41" width="20.34" height="19.60" fill="#ecf4fb"/><rect x="1478.88" y="70.41" width="20.34" height="19.60" fill="#ecf4fb"/><rect x="1498.23" y="70.41" width="20.34" height="19.60" fill="#e0ecf8"/><rect x="1517.58" y="70.41" width="20.34" height="19.60" fill="#f0f6fd"/><rect x="1536.92" y="70.41" width="20.34" height="19.60" fill="#f0f6fd"/><rect x="1556.26" y="70.41" width="20.34" height="19.60" fill="#caddf0"/><rect x="1575.61" y="70.41" width="20.34" height="19.60" fill="#99c7e0"/><rect x="1594.95" y="70.41" width="19.34" height="19.60" fill="#b9d6ea"/>
<rect x="1227.40" y="89.02" width="20.34" height="19.60" fill="#d5e5f4"/><rect x="1246.75" y="89.02" width="20.34" height="19.60" fill="#d1e2f3"/><rect x="1266.09" y="89.02" width="20.34" height="19.60" fill="#81badb"/><rect x="1285.44" y="89.02" width="20.34" height="19.60" fill="#a0cbe2"/><rect x="1304.78" y="89.02" width="20.34" height="19.60" fill="#d1e2f3"/><rect x="1324.12" y="89.02" width="20.34" height="19.60" fill="#e8f1fa"/><rect x="1343.47" y="89.02" width="20.34" height="19.60" fill="#dceaf6"/><rect x="1362.82" y="89.02" width="20.34" height="19.60" fill="#d9e7f5"/><rect x="1382.16" y="89.02" width="20.34" height="19.60" fill="#f0f6fd"/><rect x="1401.51" y="89.02" width="20.34" height="19.60" fill="#f4f9fe"/><rect x="1420.85" y="89.02" width="20.34" height="19.60" fill="#f5fafe"/><rect x="1440.19" y="89.02" width="20.34" height="19.60" fill="#f5fafe"/><rect x="1459.54" y="89.02" width="20.34" height="19.60" fill="#f4f9fe"/><rect x="1478.88" y="89.02" width="20.34" height="19.60" fill="#e0ecf8"/><rect x="1498.23" y="89.02" width="20.34" height="19.60" fill="#f5fafe"/><rect x="1517.58" y="89.02" width="20.34" height="19.60" fill="#e0ecf8"/><rect x="1536.92" y="89.02" width="20.34" height="19.60" fill="#d1e2f3"/><rect x="1556.26" y="89.02" width="20.34" height="19.60" fill="#b3d3e8"/><rect x="1575.61" y="89.02" width="20.34" height="19.60" fill="#99c7e0"/><rect x="1594.95" y="89.02" width="19.34" height="19.60" fill="#cde0f1"/>
<rect x="1227.40" y="107.62" width="20.34" height="19.60" fill="#63a8d3"/><rect x="1246.75" y="107.62" width="20.34" height="19.60" fill="#d1e2f3"/><rect x="1266.09" y="107.62" width="20.34" height="19.60" fill="#b9d6ea"/><rect x="1285.44" y="107.62" width="20.34" height="19.60" fill="#f0f6fd"/><rect x="1304.78" y="107.62" width="20.34" height="19.60" fill="#add0e6"/><rect x="1324.12" y="107.62" width="20.34" height="19.60" fill="#e0ecf8"/><rect x="1343.47" y="107.62" width="20.34" height="19.60" fill="#e8f1fa"/><rect x="1362.82" y="107.62" width="20.34" height="19.60" fill="#e8f1fa"/><rect x="1382.16" y="107.62" width="20.34" height="19.60" fill="#ecf4fb"/><rect x="1401.51" y="107.62" width="20.34" height="19.60" fill="#f5fafe"/><rect x="1420.85" y="107.62" width="20.34" height="19.60" fill="#f5fafe"/><rect x="1440.19" y="107.62" width="20.34" height="19.60" fill="#f5fafe"/><rect x="1459.54" y="107.62" width="20.34" height="19.60" fill="#f5fafe"/><rect x="1478.88" y="107.62" width="20.34" height="19.60" fill="#e4eff9"/><rect x="1498.23" y="107.62" width="20.34" height="19.60" fill="#b9d6ea"/><rect x="1517.58" y="107.62" width="20.34" height="19.60" fill="#d1e2f3"/><rect x="1536.92" y="107.62" width="20.34" height="19.60" fill="#b9d6ea"/><rect x="1556.26" y="107.62" width="20.34" height="19.60" fill="#cde0f1"/><rect x="1575.61" y="107.62" width="20.34" height="19.60" fill="#d5e5f4"/><rect x="1594.95" y="107.62" width="19.34" height="19.60" fill="#bfd8ed"/>
<rect x="1227.40" y="126.23" width="20.34" height="19.60" fill="#d9e7f5"/><rect x="1246.75" y="126.23" width="20.34" height="19.60" fill="#2979b9"/><rect x="1266.09" y="126.23" width="20.34" height="19.60" fill="#d1e2f3"/><rect x="1285.44" y="126.23" width="20.34" height="19.60" fill="#e8f1fa"/><rect x="1304.78" y="126.23" width="20.34" height="19.60" fill="#f5fafe"/><rect x="1324.12" y="126.23" width="20.34" height="19.60" fill="#f5fafe"/><rect x="1343.47" y="126.23" width="20.34" height="19.60" fill="#dceaf6"/><rect x="1362.82" y="126.23" width="20.34" height="19.60" fill="#f5fafe"/><rect x="1382.16" y="126.23" width="20.34" height="19.60" fill="#f0f6fd"/><rect x="1401.51" y="126.23" width="20.34" height="19.60" fill="#f0f6fd"/><rect x="1420.85" y="126.23" width="20.34" height="19.60" fill="#f4f9fe"/><rect x="1440.19" y="126.23" width="20.34" height="19.60" fill="#e4eff9"/><rect x="1459.54" y="126.23" width="20.34" height="19.60" fill="#dceaf6"/><rect x="1478.88" y="126.23" width="20.34" height="19.60" fill="#e8f1fa"/><rect x="1498.23" y="126.23" width="20.34" height="19.60" fill="#c6dbef"/><rect x="1517.58" y="126.23" width="20.34" height="19.60" fill="#d1e2f3"/><rect x="1536.92" y="126.23" width="20.34" height="19.60" fill="#2373b6"/><rect x="1556.26" y="126.23" width="20.34" height="19.60" fill="#add0e6"/><rect x="1575.61" y="126.23" width="20.34" height="19.60" fill="#e8f1fa"/><rect x="1594.95" y="126.23" width="19.34" height="19.60" fill="#99c7e0"/>
<rect x="1227.40" y="144.83" width="20.34" height="19.60" fill="#69add5"/><rect x="1246.75" y="144.83" width="20.34" height="19.60" fill="#d5e5f4"/><rect x="1266.09" y="144.83" width="20.34" height="19.60" fill="#a6cee4"/><rect x="1285.44" y="144.83" width="20.34" height="19.60" fill="#f6faff"/><rect x="1304.78" y="144.83" width="20.34" height="19.60" fill="#e4eff9"/><rect x="1324.12" y="144.83" width="20.34" height="19.60" fill="#e8f1fa"/><rect x="1343.47" y="144.83" width="20.34" height="19.60" fill="#dceaf6"/><rect x="1362.82" y="144.83" width="20.34" height="19.60" fill="#f0f6fd"/><rect x="1382.16" y="144.83" width="20.34" height="19.60" fill="#f0f6fd"/><rect x="1401.51" y="144.83" width="20.34" height="19.60" fill="#f0f6fd"/><rect x="1420.85" y="144.83" width="20.34" height="19.60" fill="#f3f8fe"/><rect x="1440.19" y="144.83" width="20.34" height="19.60" fill="#e8f1fa"/><rect x="1459.54" y="144.83" width="20.34" height="19.60" fill="#d9e7f5"/><rect x="1478.88" y="144.83" width="20.34" height="19.60" fill="#dceaf6"/><rect x="1498.23" y="144.83" width="20.34" height="19.60" fill="#e0ecf8"/><rect x="1517.58" y="144.83" width="20.34" height="19.60" fill="#a0cbe2"/><rect x="1536.92" y="144.83" width="20.34" height="19.60" fill="#a6cee4"/><rect x="1556.26" y="144.83" width="20.34" height="19.60" fill="#6caed6"/><rect x="1575.61" y="144.83" width="20.34" height="19.60" fill="#d5e5f4"/><rect x="1594.95" y="144.83" width="19.34" height="19.60" fill="#a0cbe2"/>
<rect x="1227.40" y="163.44" width="20.34" height="19.60" fill="#c6dbef"/><rect x="1246.75" y="163.44" width="20.34" height="19.60" fill="#b3d3e8"/><rect x="1266.09" y="163.44" width="20.34" height="19.60" fill="#b3d3e8"/><rect x="1285.44" y="163.44" width="20.34" height="19.60" fill="#e8f1fa"/><rect x="1304.78" y="163.44" width="20.34" height="19.60" fill="#f5fafe"/><rect x="1324.12" y="163.44" width="20.34" height="19.60" fill="#e8f1fa"/><rect x="1343.47" y="163.44" width="20.34" height="19.60" fill="#e8f1fa"/><rect x="1362.82" y="163.44" width="20.34" height="19.60" fill="#f0f6fd"/><rect x="1382.16" y="163.44" width="20.34" height="19.60" fill="#f2f7fd"/><rect x="1401.51" y="163.44" width="20.34" height="19.60" fill="#f2f7fd"/><rect x="1420.85" y="163.44" width="20.34" height="19.60" fill="#f4f9fe"/><rect x="1440.19" y="163.44" width="20.34" height="19.60" fill="#e4eff9"/><rect x="1459.54" y="163.44" width="20.34" height="19.60" fill="#d9e7f5"/><rect x="1478.88" y="163.44" width="20.34" height="19.60" fill="#e8f1fa"/><rect x="1498.23" y="163.44" width="20.34" height="19.60" fill="#d9e7f5"/><rect x="1517.58" y="163.44" width="20.34" height="19.60" fill="#d9e7f5"/><rect x="1536.92" y="163.44" width="20.34" height="19.60" fill="#99c7e0"/><rect x="1556.26" y="163.44" width="20.34" height="19.60" fill="#72b2d8"/><rect x="1575.61" y="163.44" width="20.34" height="19.60" fill="#e8f1fa"/><rect x="1594.95" y="163.44" width="19.34" height="19.60" fill="#bfd8ed"/>
<rect x="1227.40" y="182.04" width="20.34" height="19.60" fill="#caddf0"/><rect x="1246.75" y="182.04" width="20.34" height="19.60" fill="#81badb"/><rect x="1266.09" y="182.04" width="20.34" height="19.60" fill="#b3d3e8"/><rect x="1285.44" y="182.04" width="20.34" height="19.60" fill="#f5fafe"/><rect x="1304.78" y="182.04" width="20.34" height="19.60" fill="#f2f7fd"/><rect x="1324.12" y="182.04" width="20.34" height="19.60" fill="#f5fafe"/><rect x="1343.47" y="182.04" width="20.34" height="19.60" fill="#e4eff9"/><rect x="1362.82" y="182.04" width="20.34" height="19.60" fill="#f5fafe"/><rect x="1382.16" y="182.04" width="20.34" height="19.60" fill="#f2f7fd"/><rect x="1401.51" y="182.04" width="20.34" height="19.60" fill="#f4f9fe"/><rect x="1420.85" y="182.04" width="20.34" height="19.60" fill="#f4f9fe"/><rect x="1440.19" y="182.04" width="20.34" height="19.60" fill="#f2f7fd"/><rect x="1459.54" y="182.04" width="20.34" height="19.60" fill="#e0ecf8"/><rect x="1478.88" y="182.04" width="20.34" height="19.60" fill="#e8f1fa"/><rect x="1498.23" y="182.04" width="20.34" height="19.60" fill="#e0ecf8"/><rect x="1517.58" y="182.04" width="20.34" height="19.60" fill="#a0cbe2"/><rect x="1536.92" y="182.04" width="20.34" height="19.60" fill="#a6cee4"/><rect x="1556.26" y="182.04" width="20.34" height="19.60" fill="#99c7e0"/><rect x="1575.61" y="182.04" width="20.34" height="19.60" fill="#d9e7f5"/><rect x="1594.95" y="182.04" width="19.34" height="19.60" fill="#dceaf6"/>
<rect x="1227.40" y="200.65" width="20.34" height="19.60" fill="#79b5d9"/><rect x="1246.75" y="200.65" width="20.34" height="19.60" fill="#b3d3e8"/><rect x="1266.09" y="200.65" width="20.34" height="19.60" fill="#d9e7f5"/><rect x="1285.44" y="200.65" width="20.34" height="19.60" fill="#89bedc"/><rect x="1304.78" y="200.65" width="20.34" height="19.60" fill="#caddf0"/><rect x="1324.12" y="200.65" width="20.34" height="19.60" fill="#e0ecf8"/><rect x="1343.47" y="200.65" width="20.34" height="19.60" fill="#dceaf6"/><rect x="1362.82" y="200.65" width="20.34" height="19.60" fill="#f0f6fd"/><rect x="1382.16" y="200.65" width="20.34" height="19.60" fill="#e4eff9"/><rect x="1401.51" y="200.65" width="20.34" height="19.60" fill="#f5fafe"/><rect x="1420.85" y="200.65" width="20.34" height="19.60" fill="#f4f9fe"/><rect x="1440.19" y="200.65" width="20.34" height="19.60" fill="#f2f7fd"/><rect x="1459.54" y="200.65" width="20.34" height="19.60" fill="#f0f6fd"/><rect x="1478.88" y="200.65" width="20.34" height="19.60" fill="#e0ecf8"/><rect x="1498.23" y="200.65" width="20.34" height="19.60" fill="#ecf4fb"/><rect x="1517.58" y="200.65" width="20.34" height="19.60" fill="#dceaf6"/><rect x="1536.92" y="200.65" width="20.34" height="19.60" fill="#d5e5f4"/><rect x="1556.26" y="200.65" width="20.34" height="19.60" fill="#e8f1fa"/><rect x="1575.61" y="200.65" width="20.34" height="19.60" fill="#d1e2f3"/><rect x="1594.95" y="200.65" width="19.34" height="19.60" fill="#91c3de"/>
<rect x="1227.40" y="219.25" width="20.34" height="19.60" fill="#135fa7"/><rect x="1246.75" y="219.25" width="20.34" height="19.60" fill="#b9d6ea"/><rect x="1266.09" y="219.25" width="20.34" height="19.60" fill="#ecf4fb"/><rect x="1285.44" y="219.25" width="20.34" height="19.60" fill="#a0cbe2"/><rect x="1304.78" y="219.25" width="20.34" height="19.60" fill="#d1e2f3"/><rect x="1324.12" y="219.25" width="20.34" height="19.60" fill="#bfd8ed"/><rect x="1343.47" y="219.25" width="20.34" height="19.60" fill="#d1e2f3"/><rect x="1362.82" y="219.25" width="20.34" height="19.60" fill="#e8f1fa"/><rect x="1382.16" y="219.25" width="20.34" height="19.60" fill="#e8f1fa"/><rect x="1401.51" y="219.25" width="20.34" height="19.60" fill="#f0f6fd"/><rect x="1420.85" y="219.25" width="20.34" height="19.60" fill="#f0f6fd"/><rect x="1440.19" y="219.25" width="20.34" height="19.60" fill="#f0f6fd"/><rect x="1459.54" y="219.25" width="20.34" height="19.60" fill="#f0f6fd"/><rect x="1478.88" y="219.25" width="20.34" height="19.60" fill="#f4f9fe"/><rect x="1498.23" y="219.25" width="20.34" height="19.60" fill="#f2f7fd"/><rect x="1517.58" y="219.25" width="20.34" height="19.60" fill="#e0ecf8"/><rect x="1536.92" y="219.25" width="20.34" height="19.60" fill="#d5e5f4"/><rect x="1556.26" y="219.25" width="20.34" height="19.60" fill="#e8f1fa"/><rect x="1575.61" y="219.25" width="20.34" height="19.60" fill="#a6cee4"/><rect x="1594.95" y="219.25" width="19.34" height="19.60" fill="#caddf0"/>
<rect x="1227.40" y="237.86" width="20.34" height="19.60" fill="#add0e6"/><rect x="1246.75" y="237.86" width="20.34" height="19.60" fill="#69add5"/><rect x="1266.09" y="237.86" width="20.34" height="19.60" fill="#c6dbef"/><rect x="1285.44" y="237.86" width="20.34" height="19.60" fill="#a0cbe2"/><rect x="1304.78" y="237.86" width="20.34" height="19.60" fill="#a6cee4"/><rect x="1324.12" y="237.86" width="20.34" height="19.60" fill="#bfd8ed"/><rect x="1343.47" y="237.86" width="20.34" height="19.60" fill="#b3d3e8"/><rect x="1362.82" y="237.86" width="20.34" height="19.60" fill="#e8f1fa"/><rect x="1382.16" y="237.86" width="20.34" height="19.60" fill="#e8f1fa"/><rect x="1401.51" y="237.86" width="20.34" height="19.60" fill="#f2f7fd"/><rect x="1420.85" y="237.86" width="20.34" height="19.60" fill="#f0f6fd"/><rect x="1440.19" y="237.86" width="20.34" height="19.60" fill="#e8f1fa"/><rect x="1459.54" y="237.86" width="20.34" height="19.60" fill="#f4f9fe"/><rect x="1478.88" y="237.86" width="20.34" height="19.60" fill="#e0ecf8"/><rect x="1498.23" y="237.86" width="20.34" height="19.60" fill="#f4f9fe"/><rect x="1517.58" y="237.86" width="20.34" height="19.60" fill="#e8f1fa"/><rect x="1536.92" y="237.86" width="20.34" height="19.60" fill="#dceaf6"/><rect x="1556.26" y="237.86" width="20.34" height="19.60" fill="#d1e2f3"/><rect x="1575.61" y="237.86" width="20.34" height="19.60" fill="#d1e2f3"/><rect x="1594.95" y="237.86" width="19.34" height="19.60" fill="#63a8d3"/>
<rect x="1227.40" y="256.46" width="20.34" height="19.60" fill="#a0cbe2"/><rect x="1246.75" y="256.46" width="20.34" height="19.60" fill="#71b1d7"/><rect x="1266.09" y="256.46" width="20.34" height="19.60" fill="#dceaf6"/><rect x="1285.44" y="256.46" width="20.34" height="19.60" fill="#caddf0"/><rect x="1304.78" y="256.46" width="20.34" height="19.60" fill="#caddf0"/><rect x="1324.12" y="256.46" width="20.34" height="19.60" fill="#caddf0"/><rect x="1343.47" y="256.46" width="20.34" height="19.60" fill="#bfd8ed"/><rect x="1362.82" y="256.46" width="20.34" height="19.60" fill="#e8f1fa"/><rect x="1382.16" y="256.46" width="20.34" height="19.60" fill="#e8f1fa"/><rect x="1401.51" y="256.46" width="20.34" height="19.60" fill="#f0f6fd"/><rect x="1420.85" y="256.46" width="20.34" height="19.60" fill="#f4f9fe"/><rect x="1440.19" y="256.46" width="20.34" height="19.60" fill="#ecf4fb"/><rect x="1459.54" y="256.46" width="20.34" height="19.60" fill="#ecf4fb"/><rect x="1478.88" y="256.46" width="20.34" height="19.60" fill="#e4eff9"/><rect x="1498.23" y="256.46" width="20.34" height="19.60" fill="#f0f6fd"/><rect x="1517.58" y="256.46" width="20.34" height="19.60" fill="#e0ecf8"/><rect x="1536.92" y="256.46" width="20.34" height="19.60" fill="#caddf0"/><rect x="1556.26" y="256.46" width="20.34" height="19.60" fill="#d9e7f5"/><rect x="1575.61" y="256.46" width="20.34" height="19.60" fill="#bfd8ed"/><rect x="1594.95" y="256.46" width="19.34" height="19.60" fill="#d1e2f3"/>
<rect x="1227.40" y="275.07" width="20.34" height="19.60" fill="#99c7e0"/><rect x="1246.75" y="275.07" width="20.34" height="19.60" fill="#99c7e0"/><rect x="1266.09" y="275.07" width="20.34" height="19.60" fill="#dceaf6"/><rect x="1285.44" y="275.07" width="20.34" height="19.60" fill="#d9e7f5"/><rect x="1304.78" y="275.07" width="20.34" height="19.60" fill="#d9e7f5"/><rect x="1324.12" y="275.07" width="20.34" height="19.60" fill="#c6dbef"/><rect x="1343.47" y="275.07" width="20.34" height="19.60" fill="#e8f1fa"/><rect x="1362.82" y="275.07" width="20.34" height="19.60" fill="#e0ecf8"/><rect x="1382.16" y="275.07" width="20.34" height="19.60" fill="#f5fafe"/><rect x="1401.51" y="275.07" width="20.34" height="19.60" fill="#f4f9fe"/><rect x="1420.85" y="275.07" width="20.34" height="19.60" fill="#f3f8fe"/><rect x="1440.19" y="275.07" width="20.34" height="19.60" fill="#ecf4fb"/><rect x="1459.54" y="275.07" width="20.34" height="19.60" fill="#e8f1fa"/><rect x="1478.88" y="275.07" width="20.34" height="19.60" fill="#e8f1fa"/><rect x="1498.23" y="275.07" width="20.34" height="19.60" fill="#e0ecf8"/><rect x="1517.58" y="275.07" width="20.34" height="19.60" fill="#d9e7f5"/><rect x="1536.92" y="275.07" width="20.34" height="19.60" fill="#b9d6ea"/><rect x="1556.26" y="275.07" width="20.34" height="19.60" fill="#d9e7f5"/><rect x="1575.61" y="275.07" width="20.34" height="19.60" fill="#d5e5f4"/><rect x="1594.95" y="275.07" width="19.34" height="19.60" fill="#b9d6ea"/>
<rect x="1227.40" y="293.67" width="20.34" height="19.60" fill="#b9d6ea"/><rect x="1246.75" y="293.67" width="20.34" height="19.60" fill="#dceaf6"/><rect x="1266.09" y="293.67" width="20.34" height="19.60" fill="#79b5d9"/><rect x="1285.44" y="293.67" width="20.34" height="19.60" fill="#d1e2f3"/><rect x="1304.78" y="293.67" width="20.34" height="19.60" fill="#e8f1fa"/><rect x="1324.12" y="293.67" width="20.34" height="19.60" fill="#e8f1fa"/><rect x="1343.47" y="293.67" width="20.34" height="19.60" fill="#ecf4fb"/><rect x="1362.82" y="293.67" width="20.34" height="19.60" fill="#e0ecf8"/><rect x="1382.16" y="293.67" width="20.34" height="19.60" fill="#e8f1fa"/><rect x="1401.51" y="293.67" width="20.34" height="19.60" fill="#f0f6fd"/><rect x="1420.85" y="293.67" width="20.34" height="19.60" fill="#f5fafe"/><rect x="1440.19" y="293.67" width="20.34" height="19.60" fill="#f0f6fd"/><rect x="1459.54" y="293.67" width="20.34" height="19.60" fill="#d1e2f3"/><rect x="1478.88" y="293.67" width="20.34" height="19.60" fill="#e8f1fa"/><rect x="1498.23" y="293.67" width="20.34" height="19.60" fill="#cde0f1"/><rect x="1517.58" y="293.67" width="20.34" height="19.60" fill="#d5e5f4"/><rect x="1536.92" y="293.67" width="20.34" height="19.60" fill="#d5e5f4"/><rect x="1556.26" y="293.67" width="20.34" height="19.60" fill="#91c3de"/><rect x="1575.61" y="293.67" width="20.34" height="19.60" fill="#91c3de"/><rect x="1594.95" y="293.67" width="19.34" height="19.60" fill="#caddf0"/>
<rect x="1227.40" y="312.28" width="20.34" height="19.60" fill="#caddf0"/><rect x="1246.75" y="312.28" width="20.34" height="19.60" fill="#f4f9fe"/><rect x="1266.09" y="312.28" width="20.34" height="19.60" fill="#d9e7f5"/><rect x="1285.44" y="312.28" width="20.34" height="19.60" fill="#e0ecf8"/><rect x="1304.78" y="312.28" width="20.34" height="19.60" fill="#f2f7fd"/><rect x="1324.12" y="312.28" width="20.34" height="19.60" fill="#f2f7fd"/><rect x="1343.47" y="312.28" width="20.34" height="19.60" fill="#ecf4fb"/><rect x="1362.82" y="312.28" width="20.34" height="19.60" fill="#e8f1fa"/><rect x="1382.16" y="312.28" width="20.34" height="19.60" fill="#f2f7fd"/><rect x="1401.51" y="312.28" width="20.34" height="19.60" fill="#ecf4fb"/><rect x="1420.85" y="312.28" width="20.34" height="19.60" fill="#f3f8fe"/><rect x="1440.19" y="312.28" width="20.34" height="19.60" fill="#f2f7fd"/><rect x="1459.54" y="312.28" width="20.34" height="19.60" fill="#dceaf6"/><rect x="1478.88" y="312.28" width="20.34" height="19.60" fill="#e0ecf8"/><rect x="1498.23" y="312.28" width="20.34" height="19.60" fill="#94c4df"/><rect x="1517.58" y="312.28" width="20.34" height="19.60" fill="#b3d3e8"/><rect x="1536.92" y="312.28" width="20.34" height="19.60" fill="#ecf4fb"/><rect x="1556.26" y="312.28" width="20.34" height="19.60" fill="#99c7e0"/><rect x="1575.61" y="312.28" width="20.34" height="19.60" fill="#bfd8ed"/><rect x="1594.95" y="312.28" width="19.34" height="19.60" fill="#084b93"/>
<rect x="1227.40" y="330.88" width="20.34" height="19.60" fill="#79b5d9"/><rect x="1246.75" y="330.88" width="20.34" height="19.60" fill="#e4eff9"/><rect x="1266.09" y="330.88" width="20.34" height="19.60" fill="#a0cbe2"/><rect x="1285.44" y="330.88" width="20.34" height="19.60" fill="#f0f6fd"/><rect x="1304.78" y="330.88" width="20.34" height="19.60" fill="#f0f6fd"/><rect x="1324.12" y="330.88" width="20.34" height="19.60" fill="#ecf4fb"/><rect x="1343.47" y="330.88" width="20.34" height="19.60" fill="#e8f1fa"/><rect x="1362.82" y="330.88" width="20.34" height="19.60" fill="#ecf4fb"/><rect x="1382.16" y="330.88" width="20.34" height="19.60" fill="#e4eff9"/><rect x="1401.51" y="330.88" width="20.34" height="19.60" fill="#f4f9fe"/><rect x="1420.85" y="330.88" width="20.34" height="19.60" fill="#f4f9fe"/><rect x="1440.19" y="330.88" width="20.34" height="19.60" fill="#ecf4fb"/><rect x="1459.54" y="330.88" width="20.34" height="19.60" fill="#d9e7f5"/><rect x="1478.88" y="330.88" width="20.34" height="19.60" fill="#d1e2f3"/><rect x="1498.23" y="330.88" width="20.34" height="19.60" fill="#b9d6ea"/><rect x="1517.58" y="330.88" width="20.34" height="19.60" fill="#89bedc"/><rect x="1536.92" y="330.88" width="20.34" height="19.60" fill="#b3d3e8"/><rect x="1556.26" y="330.88" width="20.34" height="19.60" fill="#99c7e0"/><rect x="1575.61" y="330.88" width="20.34" height="19.60" fill="#89bedc"/><rect x="1594.95" y="330.88" width="19.34" height="19.60" fill="#b3d3e8"/>
<rect x="1227.40" y="349.49" width="20.34" height="19.60" fill="#81badb"/><rect x="1246.75" y="349.49" width="20.34" height="19.60" fill="#f5fafe"/><rect x="1266.09" y="349.49" width="20.34" height="19.60" fill="#d5e5f4"/><rect x="1285.44" y="349.49" width="20.34" height="19.60" fill="#dceaf6"/><rect x="1304.78" y="349.49" width="20.34" height="19.60" fill="#f5fafe"/><rect x="1324.12" y="349.49" width="20.34" height="19.60" fill="#e8f1fa"/><rect x="1343.47" y="349.49" width="20.34" height="19.60" fill="#dceaf6"/><rect x="1362.82" y="349.49" width="20.34" height="19.60" fill="#f0f6fd"/><rect x="1382.16" y="349.49" width="20.34" height="19.60" fill="#f4f9fe"/><rect x="1401.51" y="349.49" width="20.34" height="19.60" fill="#f2f7fd"/><rect x="1420.85" y="349.49" width="20.34" height="19.60" fill="#f2f7fd"/><rect x="1440.19" y="349.49" width="20.34" height="19.60" fill="#e8f1fa"/><rect x="1459.54" y="349.49" width="20.34" height="19.60" fill="#ecf4fb"/><rect x="1478.88" y="349.49" width="20.34" height="19.60" fill="#e0ecf8"/><rect x="1498.23" y="349.49" width="20.34" height="19.60" fill="#a6cee4"/><rect x="1517.58" y="349.49" width="20.34" height="19.60" fill="#89bedc"/><rect x="1536.92" y="349.49" width="20.34" height="19.60" fill="#c6dbef"/><rect x="1556.26" y="349.49" width="20.34" height="19.60" fill="#add0e6"/><rect x="1575.61" y="349.49" width="20.34" height="19.60" fill="#bfd8ed"/><rect x="1594.95" y="349.49" width="19.34" height="19.60" fill="#b3d3e8"/>
<rect x="1227.40" y="368.09" width="20.34" height="18.60" fill="#99c7e0"/><rect x="1246.75" y="368.09" width="20.34" height="18.60" fill="#e8f1fa"/><rect x="1266.09" y="368.09" width="20.34" height="18.60" fill="#e0ecf8"/><rect x="1285.44" y="368.09" width="20.34" height="18.60" fill="#f0f6fd"/><rect x="1304.78" y="368.09" width="20.34" height="18.60" fill="#b9d6ea"/><rect x="1324.12" y="368.09" width="20.34" height="18.60" fill="#dceaf6"/><rect x="1343.47" y="368.09" width="20.34" height="18.60" fill="#ecf4fb"/><rect x="1362.82" y="368.09" width="20.34" height="18.60" fill="#e8f1fa"/><rect x="1382.16" y="368.09" width="20.34" height="18.60" fill="#f0f6fd"/><rect x="1401.51" y="368.09" width="20.34" height="18.60" fill="#f5fafe"/><rect x="1420.85" y="368.09" width="20.34" height="18.60" fill="#f5fafe"/><rect x="1440.19" y="368.09" width="20.34" height="18.60" fill="#f0f6fd"/><rect x="1459.54" y="368.09" width="20.34" height="18.60" fill="#f4f9fe"/><rect x="1478.88" y="368.09" width="20.34" height="18.60" fill="#d9e7f5"/><rect x="1498.23" y="368.09" width="20.34" height="18.60" fill="#e0ecf8"/><rect x="1517.58" y="368.09" width="20.34" height="18.60" fill="#c6dbef"/><rect x="1536.92" y="368.09" width="20.34" height="18.60" fill="#e0ecf8"/><rect x="1556.26" y="368.09" width="20.34" height="18.60" fill="#e0ecf8"/><rect x="1575.61" y="368.09" width="20.34" height="18.60" fill="#bfd8ed"/><rect x="1594.95" y="368.09" width="19.34" height="18.60" fill="#99c7e0"/>
<line class="tk" x1="1223.00" y1="23.90" x2="1227.40" y2="23.90"/><text class="t" transform="translate(1217.00,28.73) scale(1,1.080)" text-anchor="end">3.14</text>
<line class="tk" x1="1223.00" y1="42.51" x2="1227.40" y2="42.51"/><text class="t" transform="translate(1217.00,47.33) scale(1,1.080)" text-anchor="end">2.81</text>
<line class="tk" x1="1223.00" y1="61.11" x2="1227.40" y2="61.11"/><text class="t" transform="translate(1217.00,65.94) scale(1,1.080)" text-anchor="end">2.48</text>
<line class="tk" x1="1223.00" y1="79.72" x2="1227.40" y2="79.72"/><text class="t" transform="translate(1217.00,84.54) scale(1,1.080)" text-anchor="end">2.15</text>
<line class="tk" x1="1223.00" y1="98.32" x2="1227.40" y2="98.32"/><text class="t" transform="translate(1217.00,103.15) scale(1,1.080)" text-anchor="end">1.82</text>
<line class="tk" x1="1223.00" y1="116.93" x2="1227.40" y2="116.93"/><text class="t" transform="translate(1217.00,121.75) scale(1,1.080)" text-anchor="end">1.49</text>
<line class="tk" x1="1223.00" y1="135.53" x2="1227.40" y2="135.53"/><text class="t" transform="translate(1217.00,140.36) scale(1,1.080)" text-anchor="end">1.16</text>
<line class="tk" x1="1223.00" y1="154.14" x2="1227.40" y2="154.14"/><text class="t" transform="translate(1217.00,158.96) scale(1,1.080)" text-anchor="end">0.83</text>
<line class="tk" x1="1223.00" y1="172.74" x2="1227.40" y2="172.74"/><text class="t" transform="translate(1217.00,177.57) scale(1,1.080)" text-anchor="end">0.5</text>
<line class="tk" x1="1223.00" y1="191.35" x2="1227.40" y2="191.35"/><text class="t" transform="translate(1217.00,196.17) scale(1,1.080)" text-anchor="end">0.17</text>
<line class="tk" x1="1223.00" y1="209.95" x2="1227.40" y2="209.95"/><text class="t" transform="translate(1217.00,214.78) scale(1,1.080)" text-anchor="end">-0.17</text>
<line class="tk" x1="1223.00" y1="228.56" x2="1227.40" y2="228.56"/><text class="t" transform="translate(1217.00,233.38) scale(1,1.080)" text-anchor="end">-0.5</text>
<line class="tk" x1="1223.00" y1="247.16" x2="1227.40" y2="247.16"/><text class="t" transform="translate(1217.00,251.99) scale(1,1.080)" text-anchor="end">-0.83</text>
<line class="tk" x1="1223.00" y1="265.77" x2="1227.40" y2="265.77"/><text class="t" transform="translate(1217.00,270.59) scale(1,1.080)" text-anchor="end">-1.16</text>
<line class="tk" x1="1223.00" y1="284.37" x2="1227.40" y2="284.37"/><text class="t" transform="translate(1217.00,289.20) scale(1,1.080)" text-anchor="end">-1.49</text>
<line class="tk" x1="1223.00" y1="302.98" x2="1227.40" y2="302.98"/><text class="t" transform="translate(1217.00,307.80) scale(1,1.080)" text-anchor="end">-1.82</text>
<line class="tk" x1="1223.00" y1="321.58" x2="1227.40" y2="321.58"/><text class="t" transform="translate(1217.00,326.41) scale(1,1.080)" text-anchor="end">-2.15</text>
<line class="tk" x1="1223.00" y1="340.19" x2="1227.40" y2="340.19"/><text class="t" transform="translate(1217.00,345.01) scale(1,1.080)" text-anchor="end">-2.48</text>
<line class="tk" x1="1223.00" y1="358.79" x2="1227.40" y2="358.79"/><text class="t" transform="translate(1217.00,363.62) scale(1,1.080)" text-anchor="end">-2.81</text>
<line class="tk" x1="1223.00" y1="377.40" x2="1227.40" y2="377.40"/><text class="t" transform="translate(1217.00,382.22) scale(1,1.080)" text-anchor="end">-3.14</text>
<line class="tk" x1="1237.07" y1="386.70" x2="1237.07" y2="391.10"/><text class="t" transform="translate(1241.00,398.40) rotate(-90) scale(1,1.080)" text-anchor="end">-3.14</text>
<line class="tk" x1="1256.42" y1="386.70" x2="1256.42" y2="391.10"/><text class="t" transform="translate(1260.34,398.40) rotate(-90) scale(1,1.080)" text-anchor="end">-2.81</text>
<line class="tk" x1="1275.76" y1="386.70" x2="1275.76" y2="391.10"/><text class="t" transform="translate(1279.69,398.40) rotate(-90) scale(1,1.080)" text-anchor="end">-2.48</text>
<line class="tk" x1="1295.11" y1="386.70" x2="1295.11" y2="391.10"/><text class="t" transform="translate(1299.03,398.40) rotate(-90) scale(1,1.080)" text-anchor="end">-2.15</text>
<line class="tk" x1="1314.45" y1="386.70" x2="1314.45" y2="391.10"/><text class="t" transform="translate(1318.38,398.40) rotate(-90) scale(1,1.080)" text-anchor="end">-1.82</text>
<line class="tk" x1="1333.80" y1="386.70" x2="1333.80" y2="391.10"/><text class="t" transform="translate(1337.72,398.40) rotate(-90) scale(1,1.080)" text-anchor="end">-1.49</text>
<line class="tk" x1="1353.14" y1="386.70" x2="1353.14" y2="391.10"/><text class="t" transform="translate(1357.07,398.40) rotate(-90) scale(1,1.080)" text-anchor="end">-1.16</text>
<line class="tk" x1="1372.49" y1="386.70" x2="1372.49" y2="391.10"/><text class="t" transform="translate(1376.41,398.40) rotate(-90) scale(1,1.080)" text-anchor="end">-0.83</text>
<line class="tk" x1="1391.83" y1="386.70" x2="1391.83" y2="391.10"/><text class="t" transform="translate(1395.76,398.40) rotate(-90) scale(1,1.080)" text-anchor="end">-0.5</text>
<line class="tk" x1="1411.18" y1="386.70" x2="1411.18" y2="391.10"/><text class="t" transform="translate(1415.10,398.40) rotate(-90) scale(1,1.080)" text-anchor="end">-0.17</text>
<line class="tk" x1="1430.52" y1="386.70" x2="1430.52" y2="391.10"/><text class="t" transform="translate(1434.45,398.40) rotate(-90) scale(1,1.080)" text-anchor="end">0.17</text>
<line class="tk" x1="1449.87" y1="386.70" x2="1449.87" y2="391.10"/><text class="t" transform="translate(1453.79,398.40) rotate(-90) scale(1,1.080)" text-anchor="end">0.5</text>
<line class="tk" x1="1469.21" y1="386.70" x2="1469.21" y2="391.10"/><text class="t" transform="translate(1473.14,398.40) rotate(-90) scale(1,1.080)" text-anchor="end">0.83</text>
<line class="tk" x1="1488.56" y1="386.70" x2="1488.56" y2="391.10"/><text class="t" transform="translate(1492.48,398.40) rotate(-90) scale(1,1.080)" text-anchor="end">1.16</text>
<line class="tk" x1="1507.90" y1="386.70" x2="1507.90" y2="391.10"/><text class="t" transform="translate(1511.83,398.40) rotate(-90) scale(1,1.080)" text-anchor="end">1.49</text>
<line class="tk" x1="1527.25" y1="386.70" x2="1527.25" y2="391.10"/><text class="t" transform="translate(1531.17,398.40) rotate(-90) scale(1,1.080)" text-anchor="end">1.82</text>
<line class="tk" x1="1546.59" y1="386.70" x2="1546.59" y2="391.10"/><text class="t" transform="translate(1550.52,398.40) rotate(-90) scale(1,1.080)" text-anchor="end">2.15</text>
<line class="tk" x1="1565.94" y1="386.70" x2="1565.94" y2="391.10"/><text class="t" transform="translate(1569.86,398.40) rotate(-90) scale(1,1.080)" text-anchor="end">2.48</text>
<line class="tk" x1="1585.28" y1="386.70" x2="1585.28" y2="391.10"/><text class="t" transform="translate(1589.21,398.40) rotate(-90) scale(1,1.080)" text-anchor="end">2.81</text>
<line class="tk" x1="1604.63" y1="386.70" x2="1604.63" y2="391.10"/><text class="t" transform="translate(1608.55,398.40) rotate(-90) scale(1,1.080)" text-anchor="end">3.14</text>
<text class="ax" x="1421.05" y="453.40" text-anchor="middle">ϕ</text>
<text class="ax" transform="translate(1172.20,202.05) rotate(-90)" text-anchor="middle">θ</text>
<defs><linearGradient id="gc" x1="0" y1="0" x2="0" y2="1"><stop offset="0.0000" stop-color="#08306b"/><stop offset="0.0156" stop-color="#083370"/><stop offset="0.0312" stop-color="#083776"/><stop offset="0.0469" stop-color="#083b7c"/><stop offset="0.0625" stop-color="#084082"/><stop offset="0.0781" stop-color="#084488"/><stop offset="0.0938" stop-color="#08488e"/><stop offset="0.1094" stop-color="#084c95"/><stop offset="0.1250" stop-color="#08509b"/><stop offset="0.1406" stop-color="#0a549e"/><stop offset="0.1562" stop-color="#0e58a2"/><stop offset="0.1719" stop-color="#115ca5"/><stop offset="0.1875" stop-color="#1460a8"/><stop offset="0.2031" stop-color="#1764ab"/><stop offset="0.2188" stop-color="#1a68ae"/><stop offset="0.2344" stop-color="#1d6cb1"/><stop offset="0.2500" stop-color="#2070b4"/><stop offset="0.2656" stop-color="#2474b7"/><stop offset="0.2812" stop-color="#2979b9"/><stop offset="0.2969" stop-color="#2d7dbb"/><stop offset="0.3125" stop-color="#3181bd"/><stop offset="0.3281" stop-color="#3585bf"/><stop offset="0.3438" stop-color="#3989c1"/><stop offset="0.3594" stop-color="#3d8dc4"/><stop offset="0.3750" stop-color="#4191c6"/><stop offset="0.3906" stop-color="#4695c8"/><stop offset="0.4062" stop-color="#4b98ca"/><stop offset="0.4219" stop-color="#519ccc"/><stop offset="0.4375" stop-color="#56a0ce"/><stop offset="0.4531" stop-color="#5ba3d0"/><stop offset="0.4688" stop-color="#60a7d2"/><stop offset="0.4844" stop-color="#65aad4"/><stop offset="0.5000" stop-color="#6aaed6"/><stop offset="0.5156" stop-color="#71b1d7"/><stop offset="0.5312" stop-color="#77b5d9"/><stop offset="0.5469" stop-color="#7db8da"/><stop offset="0.5625" stop-color="#84bcdb"/><stop offset="0.5781" stop-color="#8abfdd"/><stop offset="0.5938" stop-color="#91c3de"/><stop offset="0.6094" stop-color="#97c6df"/><stop offset="0.6250" stop-color="#9dcae1"/><stop offset="0.6406" stop-color="#a3cce3"/><stop offset="0.6562" stop-color="#a8cee4"/><stop offset="0.6719" stop-color="#add0e6"/><stop offset="0.6875" stop-color="#b2d2e8"/><stop offset="0.7031" stop-color="#b7d4ea"/><stop offset="0.7188" stop-color="#bcd7eb"/><stop offset="0.7344" stop-color="#c1d9ed"/><stop offset="0.7500" stop-color="#c6dbef"/><stop offset="0.7656" stop-color="#c9ddf0"/><stop offset="0.7812" stop-color="#ccdff1"/><stop offset="0.7969" stop-color="#cfe1f2"/><stop offset="0.8125" stop-color="#d2e3f3"/><stop offset="0.8281" stop-color="#d5e5f4"/><stop offset="0.8438" stop-color="#d8e7f5"/><stop offset="0.8594" stop-color="#dbe9f6"/><stop offset="0.8750" stop-color="#deebf7"/><stop offset="0.8906" stop-color="#e1edf8"/><stop offset="0.9062" stop-color="#e4eff9"/><stop offset="0.9219" stop-color="#e7f1fa"/><stop offset="0.9375" stop-color="#eaf3fb"/><stop offset="0.9531" stop-color="#eef5fc"/><stop offset="0.9688" stop-color="#f1f7fd"/><stop offset="0.9844" stop-color="#f4f9fe"/><stop offset="1.0000" stop-color="#f7fbff"/></linearGradient></defs>
<rect x="1639.20" y="14.60" width="17.90" height="372.10" fill="url(#gc)"/>
<line class="tk" x1="1657.10" y1="23.89" x2="1662.40" y2="23.89"/><text class="t" transform="translate(1667.40,29.51) scale(1,1.080)">2.5</text>
<line class="tk" x1="1657.10" y1="96.45" x2="1662.40" y2="96.45"/><text class="t" transform="translate(1667.40,102.07) scale(1,1.080)">2.0</text>
<line class="tk" x1="1657.10" y1="169.01" x2="1662.40" y2="169.01"/><text class="t" transform="translate(1667.40,174.64) scale(1,1.080)">1.5</text>
<line class="tk" x1="1657.10" y1="241.58" x2="1662.40" y2="241.58"/><text class="t" transform="translate(1667.40,247.20) scale(1,1.080)">1.0</text>
<line class="tk" x1="1657.10" y1="314.14" x2="1662.40" y2="314.14"/><text class="t" transform="translate(1667.40,319.76) scale(1,1.080)">0.5</text>
<text class="cap" y="491.1"><tspan x="1419.00" font-size="33" textLength="9.5" lengthAdjust="spacingAndGlyphs">(</tspan><tspan x="1429.40" font-size="28.7" textLength="14.48" lengthAdjust="spacingAndGlyphs">c</tspan><tspan x="1444.50" font-size="33" textLength="9.5" lengthAdjust="spacingAndGlyphs">)</tspan></text>
</g>
</svg>
</body></html>
